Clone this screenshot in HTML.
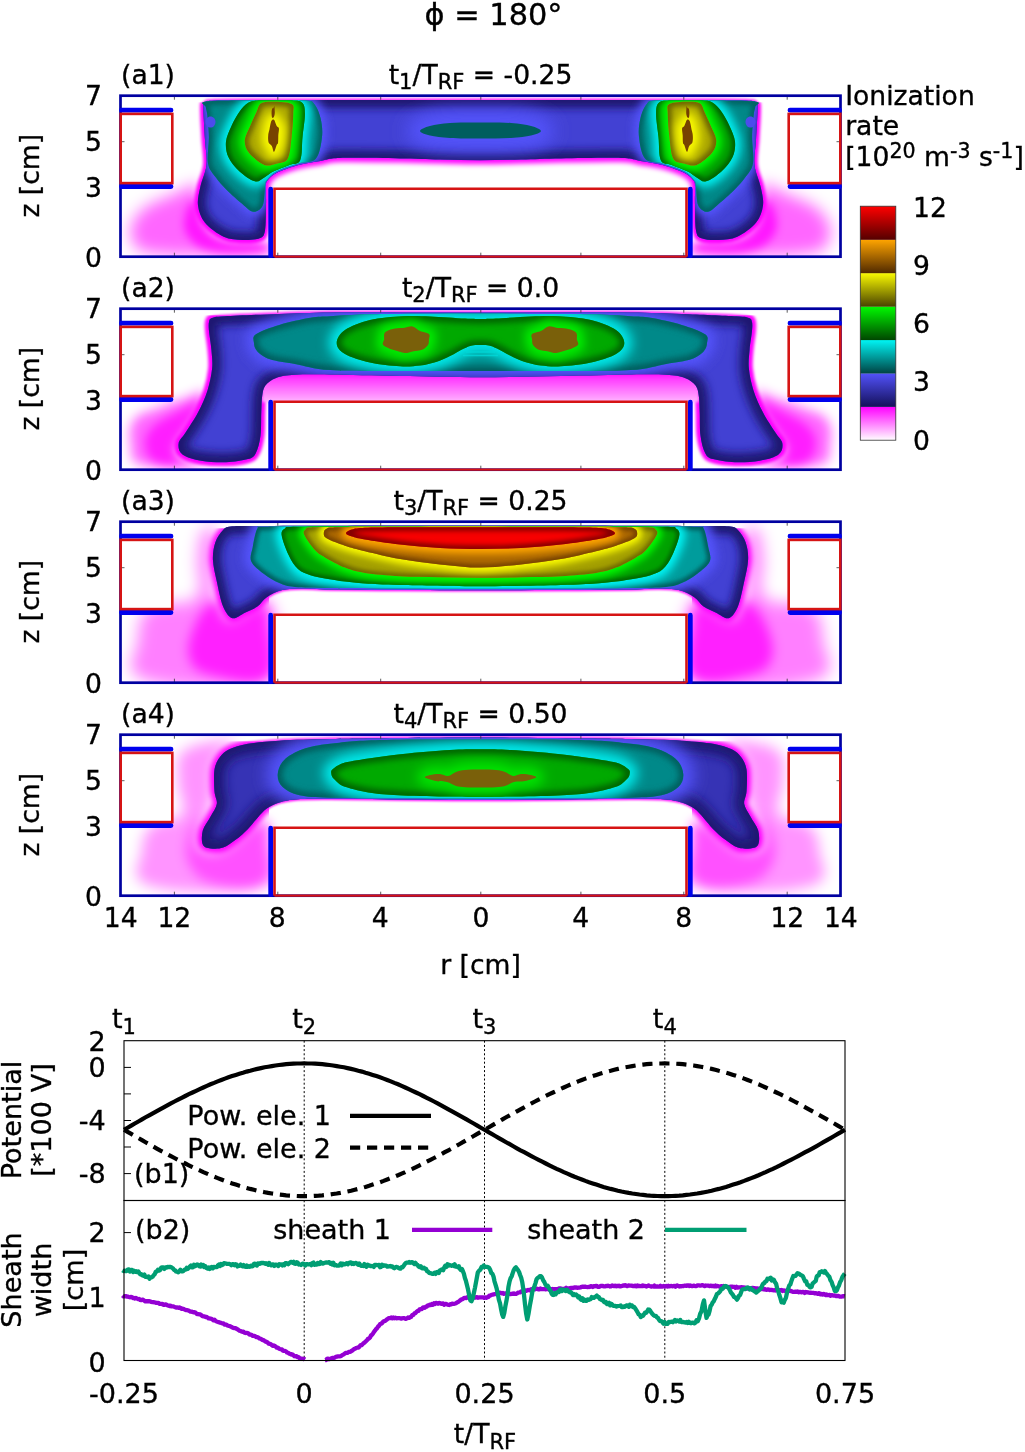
<!DOCTYPE html>
<html lang="en"><head><meta charset="utf-8"><title>Ionization rate, phi = 180 deg</title>
<style>html,body{margin:0;padding:0;background:#fff}svg{display:block}</style></head>
<body>
<svg width="1025" height="1452" viewBox="0 0 1025 1452" font-family='"DejaVu Sans","Liberation Sans",sans-serif'>
<defs>
<filter id="b3" filterUnits="userSpaceOnUse" x="90" y="80" width="780" height="830"><feGaussianBlur stdDeviation="1.6"/></filter>
<filter id="b4" filterUnits="userSpaceOnUse" x="90" y="80" width="780" height="830"><feGaussianBlur stdDeviation="2.4"/></filter>
<filter id="b5" filterUnits="userSpaceOnUse" x="90" y="80" width="780" height="830"><feGaussianBlur stdDeviation="3.2"/></filter>
<filter id="b6" filterUnits="userSpaceOnUse" x="90" y="80" width="780" height="830"><feGaussianBlur stdDeviation="4.2"/></filter>
<filter id="b8" filterUnits="userSpaceOnUse" x="90" y="80" width="780" height="830"><feGaussianBlur stdDeviation="6"/></filter>
<filter id="b10" filterUnits="userSpaceOnUse" x="90" y="80" width="780" height="830"><feGaussianBlur stdDeviation="9"/></filter>
<linearGradient id="g_blue" x1="0" y1="1" x2="0" y2="0"><stop offset="0" stop-color="rgb(20,16,89)"/><stop offset="1" stop-color="rgb(82,82,250)"/></linearGradient>
<linearGradient id="g_cyan" x1="0" y1="1" x2="0" y2="0"><stop offset="0" stop-color="rgb(0,67,67)"/><stop offset="1" stop-color="rgb(0,245,245)"/></linearGradient>
<linearGradient id="g_green" x1="0" y1="1" x2="0" y2="0"><stop offset="0" stop-color="rgb(0,70,0)"/><stop offset="1" stop-color="rgb(0,250,0)"/></linearGradient>
<linearGradient id="g_yellow" x1="0" y1="1" x2="0" y2="0"><stop offset="0" stop-color="rgb(73,67,0)"/><stop offset="1" stop-color="rgb(250,250,0)"/></linearGradient>
<linearGradient id="g_orange" x1="0" y1="1" x2="0" y2="0"><stop offset="0" stop-color="rgb(80,41,0)"/><stop offset="1" stop-color="rgb(255,165,0)"/></linearGradient>
<linearGradient id="g_red" x1="0" y1="1" x2="0" y2="0"><stop offset="0" stop-color="rgb(84,0,0)"/><stop offset="1" stop-color="rgb(255,0,0)"/></linearGradient>
<linearGradient id="g_strip" x1="0" y1="0" x2="0" y2="1"><stop offset="0" stop-color="#ff10ff"/><stop offset=".25" stop-color="#ff48ff"/><stop offset="1" stop-color="#ffb4ff"/></linearGradient>
<linearGradient id="g_mag" x1="0" y1="1" x2="0" y2="0"><stop offset="0" stop-color="#fff"/><stop offset="1" stop-color="#f0f"/></linearGradient>
<clipPath id="box0"><rect x="120.5" y="95.7" width="720" height="161"/></clipPath>
<path id="h1" d="M480.5 100C453.7 100 423.4 100 400 100C376.6 100 363.3 100 340 100C316.7 100 280.8 99.9 260 100C239.2 100.1 224.2 100.1 215 100.5C205.8 100.9 206.9 100.9 205 102.5C203.1 104.1 203.5 103.8 203.5 110C203.5 116.2 204.5 130.8 205 140C205.5 149.2 207.3 157.2 206.5 165C205.7 172.8 201.7 180.2 200.3 187C198.9 193.8 197.2 199.6 198 205.5C198.8 211.4 200.7 217.5 205 222.7C209.3 227.9 217.5 233.8 223.7 236.7C229.9 239.6 236.4 239.7 242.4 240C248.4 240.3 255.8 239.9 259.6 238.3C263.4 236.7 263.9 236.1 265 230.5C266.1 224.9 265.8 212.2 266 205C266.2 197.8 265.8 191.1 266 187C266.2 182.9 265.6 182.9 267.4 180.5C269.2 178.1 271.6 175.3 276.8 172.7C282 170.1 291.3 166.8 298.6 164.9C305.9 163 313.6 162.2 320.5 161C327.4 159.8 326.8 158.4 340 158C353.2 157.6 383.3 158.2 400 158.5C416.7 158.8 426.6 159.2 440 159.5C453.4 159.8 467 160.2 480.5 160.2C494 160.2 507.6 159.8 521 159.5C534.4 159.2 544.3 158.8 561 158.5C577.7 158.2 607.8 157.6 621 158C634.2 158.4 633.6 159.8 640.5 161C647.4 162.2 655.1 163 662.4 164.9C669.7 166.8 679 170.1 684.2 172.7C689.4 175.3 691.8 178.1 693.6 180.5C695.4 182.9 694.8 182.9 695 187C695.2 191.1 694.8 197.8 695 205C695.2 212.2 694.9 224.9 696 230.5C697.1 236.1 697.6 236.7 701.4 238.3C705.2 239.9 712.6 240.3 718.6 240C724.6 239.7 731.1 239.6 737.3 236.7C743.5 233.8 751.7 227.9 756 222.7C760.3 217.5 762.2 211.4 763 205.5C763.8 199.6 762.1 193.8 760.7 187C759.3 180.2 755.3 172.8 754.5 165C753.7 157.2 755.5 149.2 756 140C756.5 130.8 757.5 116.2 757.5 110C757.5 103.8 757.9 104.1 756 102.5C754.1 100.9 755.2 100.9 746 100.5C736.8 100.1 721.8 100.1 701 100C680.2 99.9 644.3 100 621 100C597.7 100 584.4 100 561 100C537.6 100 507.3 100 480.5 100Z"/>
<clipPath id="hc2"><rect x="100" y="102.2" width="169" height="200"/><rect x="692" y="102.2" width="169" height="200"/></clipPath>
<clipPath id="hc3"><rect x="269" y="102.2" width="423" height="200"/></clipPath>
<clipPath id="hc4"><rect x="100" y="85.7" width="760" height="16.5"/></clipPath>
<filter id="bl0" filterUnits="userSpaceOnUse" x="90" y="80" width="780" height="830"><feGaussianBlur stdDeviation="2.8"/></filter>
<filter id="bl1" filterUnits="userSpaceOnUse" x="90" y="80" width="780" height="830"><feGaussianBlur stdDeviation="1.0"/></filter>
<filter id="bl2" filterUnits="userSpaceOnUse" x="90" y="80" width="780" height="830"><feGaussianBlur stdDeviation="8.0"/></filter>
<filter id="bl3" filterUnits="userSpaceOnUse" x="90" y="80" width="780" height="830"><feGaussianBlur stdDeviation="4.5"/></filter>
<path id="p5" d="M480.5 100C453.7 100 423.4 100 400 100C376.6 100 363.3 100 340 100C316.7 100 280.8 99.9 260 100C239.2 100.1 224.2 100.1 215 100.5C205.8 100.9 206.9 100.9 205 102.5C203.1 104.1 203.5 103.8 203.5 110C203.5 116.2 204.5 130.8 205 140C205.5 149.2 207.3 157.2 206.5 165C205.7 172.8 201.7 180.2 200.3 187C198.9 193.8 197.2 199.6 198 205.5C198.8 211.4 200.7 217.5 205 222.7C209.3 227.9 217.5 233.8 223.7 236.7C229.9 239.6 236.4 239.7 242.4 240C248.4 240.3 255.8 239.9 259.6 238.3C263.4 236.7 263.9 236.1 265 230.5C266.1 224.9 265.8 212.2 266 205C266.2 197.8 265.8 191.1 266 187C266.2 182.9 265.6 182.9 267.4 180.5C269.2 178.1 271.6 175.3 276.8 172.7C282 170.1 291.3 166.8 298.6 164.9C305.9 163 313.6 162.2 320.5 161C327.4 159.8 326.8 158.4 340 158C353.2 157.6 383.3 158.2 400 158.5C416.7 158.8 426.6 159.2 440 159.5C453.4 159.8 467 160.2 480.5 160.2C494 160.2 507.6 159.8 521 159.5C534.4 159.2 544.3 158.8 561 158.5C577.7 158.2 607.8 157.6 621 158C634.2 158.4 633.6 159.8 640.5 161C647.4 162.2 655.1 163 662.4 164.9C669.7 166.8 679 170.1 684.2 172.7C689.4 175.3 691.8 178.1 693.6 180.5C695.4 182.9 694.8 182.9 695 187C695.2 191.1 694.8 197.8 695 205C695.2 212.2 694.9 224.9 696 230.5C697.1 236.1 697.6 236.7 701.4 238.3C705.2 239.9 712.6 240.3 718.6 240C724.6 239.7 731.1 239.6 737.3 236.7C743.5 233.8 751.7 227.9 756 222.7C760.3 217.5 762.2 211.4 763 205.5C763.8 199.6 762.1 193.8 760.7 187C759.3 180.2 755.3 172.8 754.5 165C753.7 157.2 755.5 149.2 756 140C756.5 130.8 757.5 116.2 757.5 110C757.5 103.8 757.9 104.1 756 102.5C754.1 100.9 755.2 100.9 746 100.5C736.8 100.1 721.8 100.1 701 100C680.2 99.9 644.3 100 621 100C597.7 100 584.4 100 561 100C537.6 100 507.3 100 480.5 100Z"/>
<clipPath id="c6"><use href="#p5"/></clipPath>
<path id="p7" d="M206.5 101.5C197.5 102.6 205.7 104.8 205.8 107C205.9 109.2 206.8 110 207.3 115C207.8 120 208.8 128.9 208.9 137C209 145.1 206.8 156.7 208 163.4C209.2 170.1 212.8 173 215.9 177.4C219 181.8 222.4 185.5 226.8 189.9C231.2 194.3 238 200.3 242.4 204C246.8 207.7 250 211.6 253.4 211.8C256.8 212.1 260.8 209.6 262.7 205.5C264.6 201.4 264.4 191.2 265 187C265.6 182.8 264.6 183.1 266.6 180.5C268.6 177.9 271.5 174 276.8 171.2C282.1 168.3 292.1 165.5 298.6 163.4C305.1 161.3 311.9 163.1 315.8 158.7C319.7 154.3 321.2 143.8 322 137C322.8 130.2 321.8 123.5 320.5 118C319.2 112.5 316.8 106.9 314.2 104C311.6 101.1 313.9 101.1 304.9 100.5C295.9 99.9 276.4 100.3 260 100.5C243.6 100.7 215.5 100.4 206.5 101.5Z"/>
<clipPath id="c8"><use href="#p7"/></clipPath>
<path id="p9" d="M754.5 101.5C763.5 102.6 755.3 104.8 755.2 107C755.1 109.2 754.2 110 753.7 115C753.2 120 752.2 128.9 752.1 137C752 145.1 754.2 156.7 753 163.4C751.8 170.1 748.2 173 745.1 177.4C742 181.8 738.6 185.5 734.2 189.9C729.8 194.3 723 200.3 718.6 204C714.2 207.7 711 211.6 707.6 211.8C704.2 212.1 700.2 209.6 698.3 205.5C696.4 201.4 696.6 191.2 696 187C695.4 182.8 696.4 183.1 694.4 180.5C692.4 177.9 689.5 174 684.2 171.2C678.9 168.3 668.9 165.5 662.4 163.4C655.9 161.3 649.1 163.1 645.2 158.7C641.3 154.3 639.8 143.8 639 137C638.2 130.2 639.2 123.5 640.5 118C641.8 112.5 644.2 106.9 646.8 104C649.4 101.1 647.1 101.1 656.1 100.5C665.1 99.9 684.6 100.3 701 100.5C717.4 100.7 745.5 100.4 754.5 101.5Z"/>
<clipPath id="c10"><use href="#p9"/></clipPath>
<path id="p11" d="M248.7 102.5C245 104.4 242.2 108 239.3 111.9C236.4 115.8 233.7 121 231.5 125.9C229.3 130.8 226.5 136.3 226 141.5C225.5 146.7 226.2 152.2 228.4 157.1C230.6 162 234.9 167.2 239.3 171.2C243.7 175.2 250.7 180.3 254.9 181.3C259.1 182.3 261.2 179.1 264.3 177.4C267.4 175.7 269.5 173.3 273.7 171.2C277.9 169.1 284.9 166.7 289.3 164.9C293.7 163.1 298 164.9 300.2 160.2C302.4 155.5 301.7 144.6 302.5 136.8C303.3 129 305 119.1 304.9 113.4C304.8 107.7 304.4 104.6 301.8 102.5C299.2 100.4 296.1 100.9 289.3 100.6C282.5 100.3 268 100.3 261.2 100.6C254.4 100.9 252.3 100.6 248.7 102.5Z"/>
<clipPath id="c12"><use href="#p11"/></clipPath>
<path id="p13" d="M712.3 102.5C715.9 104.4 718.8 108 721.7 111.9C724.6 115.8 727.3 121 729.5 125.9C731.7 130.8 734.5 136.3 735 141.5C735.5 146.7 734.8 152.2 732.6 157.1C730.4 162 726.1 167.2 721.7 171.2C717.3 175.2 710.3 180.3 706.1 181.3C701.9 182.3 699.8 179.1 696.7 177.4C693.6 175.7 691.5 173.3 687.3 171.2C683.1 169.1 676.1 166.7 671.7 164.9C667.3 163.1 663 164.9 660.8 160.2C658.6 155.5 659.3 144.6 658.5 136.8C657.7 129 656 119.1 656.1 113.4C656.2 107.7 656.6 104.6 659.2 102.5C661.8 100.4 664.9 100.9 671.7 100.6C678.5 100.3 693 100.3 699.8 100.6C706.6 100.9 708.6 100.6 712.3 102.5Z"/>
<clipPath id="c14"><use href="#p13"/></clipPath>
<path id="p15" d="M261.2 103.3C258.3 105 258.3 108.1 256.5 111.9C254.7 115.7 252.1 121.2 250.2 125.9C248.2 130.6 245.1 135.6 244.8 140C244.6 144.4 245.4 148.2 248.7 152.4C251.9 156.6 259.6 163.1 264.3 164.9C269 166.7 272.9 164.4 276.8 163.4C280.7 162.4 285.2 163.1 287.7 158.7C290.2 154.3 290.7 144.4 291.6 136.8C292.5 129.2 293.2 118.9 293.2 113.4C293.2 107.9 294.9 106 291.6 104C288.4 102 278.8 101.8 273.7 101.7C268.6 101.6 264.1 101.6 261.2 103.3Z"/>
<clipPath id="c16"><use href="#p15"/></clipPath>
<path id="p17" d="M699.8 103.3C702.7 105 702.7 108.1 704.5 111.9C706.3 115.7 708.8 121.2 710.8 125.9C712.8 130.6 716 135.6 716.2 140C716.5 144.4 715.5 148.2 712.3 152.4C709 156.6 701.4 163.1 696.7 164.9C692 166.7 688.1 164.4 684.2 163.4C680.3 162.4 675.8 163.1 673.3 158.7C670.8 154.3 670.3 144.4 669.4 136.8C668.5 129.2 667.8 118.9 667.8 113.4C667.8 107.9 666.1 106 669.4 104C672.6 102 682.2 101.8 687.3 101.7C692.4 101.6 696.9 101.6 699.8 103.3Z"/>
<clipPath id="c18"><use href="#p17"/></clipPath>
<path id="p19" d="M278.3 135.5C278.2 137.9 278.3 141.3 278 142.9C277.8 144.4 277.3 143.5 276.7 145C276 146.5 274.8 151.7 274 151.9C273.2 152 272.7 147.6 271.8 146C270.9 144.4 269.2 144.1 268.6 142.4C268 140.6 268 137.6 268.2 135.5C268.3 133.4 268.8 132.1 269.4 129.7C269.9 127.3 270.6 122.8 271.3 121.1C272.1 119.5 273.1 119 274 119.8C274.9 120.6 275.9 124.6 276.7 126C277.5 127.4 278.6 126.6 278.9 128.2C279.2 129.8 278.5 133.1 278.3 135.5Z"/>
<clipPath id="c20"><use href="#p19"/></clipPath>
<path id="p21" d="M682.7 135.5C682.8 137.9 682.7 141.3 683 142.9C683.2 144.4 683.7 143.5 684.3 145C685 146.5 686.2 151.7 687 151.9C687.8 152 688.3 147.6 689.2 146C690.1 144.4 691.8 144.1 692.4 142.4C693 140.6 693 137.6 692.8 135.5C692.7 133.4 692.2 132.1 691.6 129.7C691.1 127.3 690.4 122.8 689.7 121.1C688.9 119.5 687.9 119 687 119.8C686.1 120.6 685.1 124.6 684.3 126C683.5 127.4 682.4 126.6 682.1 128.2C681.8 129.8 682.5 133.1 682.7 135.5Z"/>
<clipPath id="c22"><use href="#p21"/></clipPath>
<path id="p23" d="M274.8 112C274.8 113.5 274.7 114.2 274.5 115.1C274.3 116 273.9 117.2 273.5 117.5C273.1 117.9 272.3 118.2 272 117.3C271.7 116.3 271.5 113.5 271.6 112C271.6 110.5 272 109.2 272.3 108.5C272.7 107.8 273.2 108.3 273.5 107.9C273.8 107.5 274.2 105.6 274.4 106.3C274.6 107 274.7 110.5 274.8 112Z"/>
<clipPath id="c24"><use href="#p23"/></clipPath>
<path id="p25" d="M686.2 112C686.2 113.5 686.3 114.2 686.5 115.1C686.7 116 687.1 117.2 687.5 117.5C687.9 117.9 688.7 118.2 689 117.3C689.3 116.3 689.5 113.5 689.4 112C689.4 110.5 689 109.2 688.7 108.5C688.3 107.8 687.8 108.3 687.5 107.9C687.2 107.5 686.8 105.6 686.6 106.3C686.4 107 686.3 110.5 686.2 112Z"/>
<clipPath id="c26"><use href="#p25"/></clipPath>
<path id="p27" d="M480.5 122.5C470.3 122.5 458.4 122.4 450 123C441.6 123.6 435 124.7 430 126C425 127.3 420 129.4 420 131C420 132.6 425 134.3 430 135.5C435 136.7 441.6 137.5 450 138C458.4 138.5 470.3 138.5 480.5 138.5C490.7 138.5 502.6 138.5 511 138C519.4 137.5 526 136.7 531 135.5C536 134.3 541 132.6 541 131C541 129.4 536 127.3 531 126C526 124.7 519.4 123.6 511 123C502.6 122.4 490.7 122.5 480.5 122.5Z"/>
<clipPath id="c28"><use href="#p27"/></clipPath>
<path id="p29" d="M215.5 122C215.5 123.3 214.9 125 214 125.9C213.2 126.8 211.7 127.5 210.5 127.5C209.3 127.5 207.8 126.8 207 125.9C206.1 125 205.5 123.3 205.5 122C205.5 120.7 206.1 119 207 118.1C207.8 117.2 209.3 116.5 210.5 116.5C211.7 116.5 213.2 117.2 214 118.1C214.9 119 215.5 120.7 215.5 122Z"/>
<clipPath id="c30"><use href="#p29"/></clipPath>
<path id="p31" d="M745.5 122C745.5 123.3 746.1 125 747 125.9C747.8 126.8 749.3 127.5 750.5 127.5C751.7 127.5 753.2 126.8 754 125.9C754.9 125 755.5 123.3 755.5 122C755.5 120.7 754.9 119 754 118.1C753.2 117.2 751.7 116.5 750.5 116.5C749.3 116.5 747.8 117.2 747 118.1C746.1 119 745.5 120.7 745.5 122Z"/>
<clipPath id="c32"><use href="#p31"/></clipPath>
<filter id="bl4" filterUnits="userSpaceOnUse" x="90" y="80" width="780" height="830"><feGaussianBlur stdDeviation="4.0"/></filter>
<filter id="bl5" filterUnits="userSpaceOnUse" x="90" y="80" width="780" height="830"><feGaussianBlur stdDeviation="9.0"/></filter>
<filter id="bl6" filterUnits="userSpaceOnUse" x="90" y="80" width="780" height="830"><feGaussianBlur stdDeviation="2.5"/></filter>
<filter id="bl7" filterUnits="userSpaceOnUse" x="90" y="80" width="780" height="830"><feGaussianBlur stdDeviation="2.2"/></filter>
<filter id="bl8" filterUnits="userSpaceOnUse" x="90" y="80" width="780" height="830"><feGaussianBlur stdDeviation="5.0"/></filter>
<clipPath id="box1"><rect x="120.5" y="308.7" width="720" height="161"/></clipPath>
<path id="h33" d="M480.5 312.4C453.7 312.4 425.1 312.4 400 312.4C374.9 312.4 350.1 312.1 330 312.4C309.9 312.6 296.9 313.2 279.3 313.9C261.7 314.5 235.8 315.6 224.6 316.3C213.4 317 214.6 317.1 212 318C209.4 318.9 209.5 319.8 209 322C208.5 324.2 208.6 326.5 209 331.1C209.4 335.7 210.9 343.6 211.4 349.8C211.9 356.1 212.8 361.8 212.1 368.6C211.4 375.4 209.8 383.1 207.5 390.4C205.2 397.7 201.8 405.3 198.1 412.3C194.4 419.3 188.8 427.4 185.6 432.6C182.3 437.8 179.1 439.9 178.6 443.5C178.1 447.1 178.7 451.5 182.5 454.4C186.3 457.3 193.9 459.4 201.2 460.7C208.5 462 218.4 462.5 226.2 462.2C234 461.9 243.1 460.7 248 459.1C252.9 457.6 253.8 456.8 255.9 452.9C258 449 259.6 442.5 260.5 435.7C261.4 428.9 261 418.8 261.3 412.3C261.6 405.8 261.5 401.1 262.1 396.7C262.8 392.3 262.9 388.8 265.2 385.7C267.5 382.6 271.2 379.7 276.1 377.9C281.1 376.1 285.9 375.4 294.9 374.8C303.9 374.2 312.5 374.3 330 374.5C347.5 374.7 374.9 375.6 400 376C425.1 376.4 453.7 377.2 480.5 377.2C507.3 377.2 535.9 376.4 561 376C586.1 375.6 613.5 374.7 631 374.5C648.5 374.3 657.1 374.2 666.1 374.8C675.1 375.4 680 376.1 684.9 377.9C689.8 379.7 693.5 382.6 695.8 385.7C698.1 388.8 698.2 392.3 698.9 396.7C699.5 401.1 699.4 405.8 699.7 412.3C700 418.8 699.6 428.9 700.5 435.7C701.4 442.5 703 449 705.1 452.9C707.2 456.8 708 457.6 713 459.1C718 460.7 727 461.9 734.8 462.2C742.6 462.5 752.5 462 759.8 460.7C767.1 459.4 774.7 457.3 778.5 454.4C782.3 451.5 782.9 447.1 782.4 443.5C781.9 439.9 778.6 437.8 775.4 432.6C772.1 427.4 766.5 419.3 762.9 412.3C759.2 405.3 755.8 397.7 753.5 390.4C751.2 383.1 749.5 375.4 748.9 368.6C748.2 361.8 749.1 356.1 749.6 349.8C750.1 343.6 751.6 335.7 752 331.1C752.4 326.5 752.5 324.2 752 322C751.5 319.8 751.6 318.9 749 318C746.4 317.1 747.6 317 736.4 316.3C725.2 315.6 699.3 314.5 681.7 313.9C664.1 313.2 651.1 312.6 631 312.4C610.9 312.1 586.1 312.4 561 312.4C535.9 312.4 507.3 312.4 480.5 312.4Z"/>
<clipPath id="hc34"><rect x="100" y="315.2" width="169" height="200"/><rect x="692" y="315.2" width="169" height="200"/></clipPath>
<clipPath id="hc35"><rect x="269" y="315.2" width="423" height="200"/></clipPath>
<clipPath id="hc36"><rect x="100" y="298.7" width="760" height="16.5"/></clipPath>
<filter id="bl9" filterUnits="userSpaceOnUse" x="90" y="80" width="780" height="830"><feGaussianBlur stdDeviation="1.6"/></filter>
<filter id="bl10" filterUnits="userSpaceOnUse" x="90" y="80" width="780" height="830"><feGaussianBlur stdDeviation="6.0"/></filter>
<path id="p37" d="M480.5 312.4C453.7 312.4 425.1 312.4 400 312.4C374.9 312.4 350.1 312.1 330 312.4C309.9 312.6 296.9 313.2 279.3 313.9C261.7 314.5 235.8 315.6 224.6 316.3C213.4 317 214.6 317.1 212 318C209.4 318.9 209.5 319.8 209 322C208.5 324.2 208.6 326.5 209 331.1C209.4 335.7 210.9 343.6 211.4 349.8C211.9 356.1 212.8 361.8 212.1 368.6C211.4 375.4 209.8 383.1 207.5 390.4C205.2 397.7 201.8 405.3 198.1 412.3C194.4 419.3 188.8 427.4 185.6 432.6C182.3 437.8 179.1 439.9 178.6 443.5C178.1 447.1 178.7 451.5 182.5 454.4C186.3 457.3 193.9 459.4 201.2 460.7C208.5 462 218.4 462.5 226.2 462.2C234 461.9 243.1 460.7 248 459.1C252.9 457.6 253.8 456.8 255.9 452.9C258 449 259.6 442.5 260.5 435.7C261.4 428.9 261 418.8 261.3 412.3C261.6 405.8 261.5 401.1 262.1 396.7C262.8 392.3 262.9 388.8 265.2 385.7C267.5 382.6 271.2 379.7 276.1 377.9C281.1 376.1 285.9 375.4 294.9 374.8C303.9 374.2 312.5 374.3 330 374.5C347.5 374.7 374.9 375.6 400 376C425.1 376.4 453.7 377.2 480.5 377.2C507.3 377.2 535.9 376.4 561 376C586.1 375.6 613.5 374.7 631 374.5C648.5 374.3 657.1 374.2 666.1 374.8C675.1 375.4 680 376.1 684.9 377.9C689.8 379.7 693.5 382.6 695.8 385.7C698.1 388.8 698.2 392.3 698.9 396.7C699.5 401.1 699.4 405.8 699.7 412.3C700 418.8 699.6 428.9 700.5 435.7C701.4 442.5 703 449 705.1 452.9C707.2 456.8 708 457.6 713 459.1C718 460.7 727 461.9 734.8 462.2C742.6 462.5 752.5 462 759.8 460.7C767.1 459.4 774.7 457.3 778.5 454.4C782.3 451.5 782.9 447.1 782.4 443.5C781.9 439.9 778.6 437.8 775.4 432.6C772.1 427.4 766.5 419.3 762.9 412.3C759.2 405.3 755.8 397.7 753.5 390.4C751.2 383.1 749.5 375.4 748.9 368.6C748.2 361.8 749.1 356.1 749.6 349.8C750.1 343.6 751.6 335.7 752 331.1C752.4 326.5 752.5 324.2 752 322C751.5 319.8 751.6 318.9 749 318C746.4 317.1 747.6 317 736.4 316.3C725.2 315.6 699.3 314.5 681.7 313.9C664.1 313.2 651.1 312.6 631 312.4C610.9 312.1 586.1 312.4 561 312.4C535.9 312.4 507.3 312.4 480.5 312.4Z"/>
<clipPath id="c38"><use href="#p37"/></clipPath>
<path id="p39" d="M480.5 313.6C453.7 313.6 420.1 313.9 400 314C379.9 314.1 371.7 314.1 360 314.5C348.3 314.9 338.2 315.8 330 316.3C321.8 316.9 318.9 316.4 310.5 317.8C302.1 319.2 288.4 322.2 279.3 324.9C270.2 327.6 260.1 331.2 255.9 334.2C251.7 337.2 253.8 340.1 254 343C254.2 345.9 254.7 348.7 257.4 351.4C260 354.1 263.6 357.1 269.9 359.2C276.1 361.3 284.9 362.1 294.9 363.9C304.9 365.7 312.5 368.9 330 370.1C347.5 371.3 374.9 370.9 400 371C425.1 371.1 453.7 371 480.5 371C507.3 371 535.9 371.1 561 371C586.1 370.9 613.5 371.3 631 370.1C648.5 368.9 656.1 365.7 666.1 363.9C676.1 362.1 684.9 361.3 691.1 359.2C697.4 357.1 701 354.1 703.6 351.4C706.2 348.7 706.8 345.9 707 343C707.2 340.1 709.3 337.2 705.1 334.2C700.9 331.2 690.8 327.6 681.7 324.9C672.6 322.2 659 319.2 650.5 317.8C642 316.4 639.2 316.9 631 316.3C622.8 315.8 612.7 314.9 601 314.5C589.3 314.1 581.1 314.1 561 314C540.9 313.9 507.3 313.6 480.5 313.6Z"/>
<clipPath id="c40"><use href="#p39"/></clipPath>
<path id="p41" d="M480.5 319C475.3 319 473.4 319 465 318.6C456.6 318.2 440.3 316.9 430 316.5C419.7 316.1 413 315.7 403 316.3C393 316.9 379.7 317.7 370 320C360.3 322.3 350.6 326.2 345 330C339.4 333.8 336.7 339 336.7 343C336.7 347 339.4 350.8 345 354C350.6 357.2 360.8 360.4 370 362.5C379.2 364.6 391.7 365.8 400 366.3C408.3 366.8 414 366.2 420 365.5C426 364.8 431 363.6 436 362C441 360.4 445.3 358.2 450 356C454.7 353.8 460.3 350.2 464 348.5C467.7 346.8 469.2 346.1 472 345.5C474.8 344.9 477.7 345 480.5 345C483.3 345 486.2 344.9 489 345.5C491.8 346.1 493.3 346.8 497 348.5C500.7 350.2 506.3 353.8 511 356C515.7 358.2 520 360.4 525 362C530 363.6 535 364.8 541 365.5C547 366.2 552.7 366.8 561 366.3C569.3 365.8 581.8 364.6 591 362.5C600.2 360.4 610.5 357.2 616 354C621.5 350.8 624.3 347 624.3 343C624.3 339 621.5 333.8 616 330C610.5 326.2 600.7 322.3 591 320C581.3 317.7 568 316.9 558 316.3C548 315.7 541.3 316.1 531 316.5C520.7 316.9 504.4 318.2 496 318.6C487.6 319 485.7 319 480.5 319Z"/>
<clipPath id="c42"><use href="#p41"/></clipPath>
<path id="p43" d="M428.9 339.5C428.8 341.3 429.1 343.3 428 345C426.9 346.7 424.9 348.6 422.3 349.7C419.8 350.7 415.6 350.9 412.6 351.4C409.7 352 407.7 353.2 404.7 353C401.7 352.8 397.6 351.2 394.8 350.3C392.1 349.5 390.2 349.1 388.2 348.1C386.2 347.1 383.4 346 382.8 344.6C382.1 343.1 383.8 341.3 384.1 339.5C384.3 337.7 383.7 335.4 384.2 334C384.7 332.6 385.2 332 387 331.1C388.8 330.2 392.1 329.1 395 328.6C398 328 401.8 328.1 404.7 327.7C407.6 327.3 410 325.8 412.6 326.4C415.1 326.9 417.4 329.7 420.1 331C422.9 332.2 427.6 332.6 429 334.1C430.5 335.5 429.1 337.7 428.9 339.5Z"/>
<clipPath id="c44"><use href="#p43"/></clipPath>
<path id="p45" d="M532.1 339.5C532.2 341.3 531.9 343.3 533 345C534.1 346.7 536.1 348.6 538.7 349.7C541.2 350.7 545.4 350.9 548.4 351.4C551.3 352 553.3 353.2 556.3 353C559.3 352.8 563.4 351.2 566.2 350.3C568.9 349.5 570.8 349.1 572.8 348.1C574.8 347.1 577.6 346 578.2 344.6C578.9 343.1 577.2 341.3 576.9 339.5C576.7 337.7 577.3 335.4 576.8 334C576.3 332.6 575.8 332 574 331.1C572.2 330.2 568.9 329.1 566 328.6C563 328 559.2 328.1 556.3 327.7C553.4 327.3 551 325.8 548.4 326.4C545.9 326.9 543.6 329.7 540.9 331C538.1 332.2 533.4 332.6 532 334.1C530.5 335.5 531.9 337.7 532.1 339.5Z"/>
<clipPath id="c46"><use href="#p45"/></clipPath>
<filter id="bl11" filterUnits="userSpaceOnUse" x="90" y="80" width="780" height="830"><feGaussianBlur stdDeviation="3.0"/></filter>
<clipPath id="box2"><rect x="120.5" y="521.7" width="720" height="161"/></clipPath>
<path id="h47" d="M480.5 525.5C453.7 525.5 425.1 525.6 400 525.6C374.9 525.6 353.3 525.7 330 525.8C306.7 525.9 276.3 525.9 260 526C243.7 526.1 238.6 525.6 232.4 526.3C226.2 527 225.9 527.3 223.1 530C220.2 532.7 217 537.5 215.3 542.5C213.6 547.5 212.7 553.2 212.9 559.7C213.2 566.2 215.1 573.8 216.8 581.6C218.5 589.4 220.5 600.4 223.1 606.5C225.7 612.6 228.8 617.2 232.4 618.2C236 619.2 240.7 614.8 244.9 612.8C249.1 610.8 253.7 609.1 257.4 606.5C261 603.9 262.6 599.9 266.8 597.2C271 594.5 276.4 591.6 282.4 590.1C288.4 588.6 294.8 588.6 302.7 588.5C310.6 588.4 313.8 589.2 330 589.5C346.2 589.8 374.9 589.9 400 590C425.1 590.1 453.7 590.2 480.5 590.2C507.3 590.2 535.9 590.1 561 590C586.1 589.9 614.8 589.8 631 589.5C647.2 589.2 650.4 588.4 658.3 588.5C666.2 588.6 672.6 588.6 678.6 590.1C684.6 591.6 690 594.5 694.2 597.2C698.4 599.9 700 603.9 703.6 606.5C707.2 609.1 711.9 610.8 716.1 612.8C720.3 614.8 725 619.2 728.6 618.2C732.2 617.2 735.3 612.6 737.9 606.5C740.5 600.4 742.5 589.4 744.2 581.6C745.9 573.8 747.9 566.2 748.1 559.7C748.4 553.2 747.4 547.5 745.7 542.5C744 537.5 740.8 532.7 737.9 530C735 527.3 734.8 527 728.6 526.3C722.5 525.6 717.3 526.1 701 526C684.7 525.9 654.3 525.9 631 525.8C607.7 525.7 586.1 525.6 561 525.6C535.9 525.6 507.3 525.5 480.5 525.5Z"/>
<clipPath id="hc48"><rect x="100" y="528.2" width="169" height="200"/><rect x="692" y="528.2" width="169" height="200"/></clipPath>
<clipPath id="hc49"><rect x="269" y="528.2" width="423" height="200"/></clipPath>
<clipPath id="hc50"><rect x="100" y="511.7" width="760" height="16.5"/></clipPath>
<filter id="bl12" filterUnits="userSpaceOnUse" x="90" y="80" width="780" height="830"><feGaussianBlur stdDeviation="0.8"/></filter>
<path id="p51" d="M480.5 525.5C453.7 525.5 425.1 525.6 400 525.6C374.9 525.6 353.3 525.7 330 525.8C306.7 525.9 276.3 525.9 260 526C243.7 526.1 238.6 525.6 232.4 526.3C226.2 527 225.9 527.3 223.1 530C220.2 532.7 217 537.5 215.3 542.5C213.6 547.5 212.7 553.2 212.9 559.7C213.2 566.2 215.1 573.8 216.8 581.6C218.5 589.4 220.5 600.4 223.1 606.5C225.7 612.6 228.8 617.2 232.4 618.2C236 619.2 240.7 614.8 244.9 612.8C249.1 610.8 253.7 609.1 257.4 606.5C261 603.9 262.6 599.9 266.8 597.2C271 594.5 276.4 591.6 282.4 590.1C288.4 588.6 294.8 588.6 302.7 588.5C310.6 588.4 313.8 589.2 330 589.5C346.2 589.8 374.9 589.9 400 590C425.1 590.1 453.7 590.2 480.5 590.2C507.3 590.2 535.9 590.1 561 590C586.1 589.9 614.8 589.8 631 589.5C647.2 589.2 650.4 588.4 658.3 588.5C666.2 588.6 672.6 588.6 678.6 590.1C684.6 591.6 690 594.5 694.2 597.2C698.4 599.9 700 603.9 703.6 606.5C707.2 609.1 711.9 610.8 716.1 612.8C720.3 614.8 725 619.2 728.6 618.2C732.2 617.2 735.3 612.6 737.9 606.5C740.5 600.4 742.5 589.4 744.2 581.6C745.9 573.8 747.9 566.2 748.1 559.7C748.4 553.2 747.4 547.5 745.7 542.5C744 537.5 740.8 532.7 737.9 530C735 527.3 734.8 527 728.6 526.3C722.5 525.6 717.3 526.1 701 526C684.7 525.9 654.3 525.9 631 525.8C607.7 525.7 586.1 525.6 561 525.6C535.9 525.6 507.3 525.5 480.5 525.5Z"/>
<clipPath id="c52"><use href="#p51"/></clipPath>
<path id="p53" d="M480.5 526C453.7 526 425.1 526.1 400 526.1C374.9 526.1 352.5 526.2 330 526.3C307.5 526.4 277.1 526.4 265 526.8C252.9 527.2 259.4 525.1 257.4 528.5C255.3 531.9 253.7 541.7 252.7 547.2C251.7 552.7 249.4 556.9 251.2 561.3C253 565.7 259 570.2 263.7 573.8C268.4 577.4 274.1 580.9 279.3 583.1C284.5 585.3 286.4 586.2 294.9 587C303.3 587.8 312.5 587.8 330 588C347.5 588.2 374.9 588.4 400 588.5C425.1 588.6 453.7 588.8 480.5 588.8C507.3 588.8 535.9 588.6 561 588.5C586.1 588.4 613.5 588.2 631 588C648.5 587.8 657.6 587.8 666.1 587C674.6 586.2 676.5 585.3 681.7 583.1C686.9 580.9 692.6 577.4 697.3 573.8C702 570.2 708 565.7 709.8 561.3C711.6 556.9 709.3 552.7 708.3 547.2C707.3 541.7 705.6 531.9 703.6 528.5C701.6 525.1 708.1 527.2 696 526.8C683.9 526.4 653.5 526.4 631 526.3C608.5 526.2 586.1 526.1 561 526.1C535.9 526.1 507.3 526 480.5 526Z"/>
<clipPath id="c54"><use href="#p53"/></clipPath>
<path id="p55" d="M480.5 526.3C453.7 526.3 425.1 526.3 400 526.4C374.9 526.5 348.3 526.5 330 526.6C311.7 526.7 297.4 526.8 290 527C282.6 527.2 286.9 526.7 285.5 528C284.1 529.3 281.1 530.2 281.6 534.7C282.1 539.2 285.9 549.3 288.6 555C291.3 560.7 294.4 565.7 298 569.1C301.6 572.5 306 573.7 310.5 575.3C315 576.9 319.2 577.5 325 578.5C330.8 579.5 338.3 580.8 345 581.6C351.7 582.4 355.8 582.9 365 583.5C374.2 584.1 380.8 584.5 400 585C419.2 585.5 453.7 586.2 480.5 586.2C507.3 586.2 541.8 585.5 561 585C580.2 584.5 586.8 584.1 596 583.5C605.2 582.9 609.3 582.4 616 581.6C622.7 580.8 630.2 579.5 636 578.5C641.8 577.5 646 576.9 650.5 575.3C655 573.7 659.4 572.5 663 569.1C666.6 565.7 669.7 560.7 672.4 555C675.1 549.3 678.9 539.2 679.4 534.7C679.9 530.2 676.9 529.3 675.5 528C674.1 526.7 678.4 527.2 671 527C663.6 526.8 649.3 526.7 631 526.6C612.7 526.5 586.1 526.5 561 526.4C535.9 526.3 507.3 526.3 480.5 526.3Z"/>
<clipPath id="c56"><use href="#p55"/></clipPath>
<path id="p57" d="M480.5 526.6C453.7 526.6 425.1 526.7 400 526.8C374.9 526.9 345 526.9 330 527C315 527.1 314 527.2 310 527.5C306 527.8 306.8 527.8 305.8 529C304.8 530.2 302.6 531.2 304.2 534.7C305.8 538.2 311.7 546.5 315.2 550.3C318.7 554.1 320 554.5 325 557.4C330 560.3 338.3 565 345 567.6C351.7 570.2 355.8 571.6 365 573C374.2 574.4 387.5 575.5 400 576.2C412.5 576.9 426.6 577 440 577.2C453.4 577.5 467 577.7 480.5 577.7C494 577.7 507.6 577.5 521 577.2C534.4 577 548.5 576.9 561 576.2C573.5 575.5 586.8 574.4 596 573C605.2 571.6 609.3 570.2 616 567.6C622.7 565 631 560.3 636 557.4C641 554.5 642.3 554.1 645.8 550.3C649.3 546.5 655.2 538.2 656.8 534.7C658.4 531.2 656.2 530.2 655.2 529C654.2 527.8 655 527.8 651 527.5C647 527.2 646 527.1 631 527C616 526.9 586.1 526.9 561 526.8C535.9 526.7 507.3 526.6 480.5 526.6Z"/>
<clipPath id="c58"><use href="#p57"/></clipPath>
<path id="p59" d="M480.5 526.9C453.7 526.9 423.4 526.9 400 527C376.6 527.1 352.2 527 340 527.3C327.8 527.5 329.7 527.5 327 528.5C324.3 529.5 323.8 531.5 323.8 533.2C323.8 534.9 323.5 536.4 327 538.5C330.5 540.6 338.7 543.6 345 545.7C351.3 547.8 355.8 549 365 551.2C374.2 553.4 387.5 556.8 400 559C412.5 561.2 426.6 563 440 564.4C453.4 565.8 467 567.6 480.5 567.6C494 567.6 507.6 565.8 521 564.4C534.4 563 548.5 561.2 561 559C573.5 556.8 586.8 553.4 596 551.2C605.2 549 609.7 547.8 616 545.7C622.3 543.6 630.5 540.6 634 538.5C637.5 536.4 637.2 534.9 637.2 533.2C637.2 531.5 636.7 529.5 634 528.5C631.3 527.5 633.2 527.5 621 527.3C608.8 527 584.4 527.1 561 527C537.6 526.9 507.3 526.9 480.5 526.9Z"/>
<clipPath id="c60"><use href="#p59"/></clipPath>
<path id="p61" d="M480.5 527.2C453.7 527.2 419.2 527.1 400 527.2C380.8 527.3 373 527.4 365 527.8C357 528.2 355.2 528.6 352 529.5C348.8 530.4 346 532 346 533.2C346 534.4 348.8 535.5 352 536.5C355.2 537.5 357 538.2 365 539.5C373 540.8 387.5 543.1 400 544.5C412.5 545.9 426.6 547.2 440 548C453.4 548.8 467 549 480.5 549C494 549 507.6 548.8 521 548C534.4 547.2 548.5 545.9 561 544.5C573.5 543.1 588 540.8 596 539.5C604 538.2 605.8 537.5 609 536.5C612.2 535.5 615 534.4 615 533.2C615 532 612.2 530.4 609 529.5C605.8 528.6 604 528.2 596 527.8C588 527.4 580.2 527.3 561 527.2C541.8 527.1 507.3 527.2 480.5 527.2Z"/>
<clipPath id="c62"><use href="#p61"/></clipPath>
<filter id="bl13" filterUnits="userSpaceOnUse" x="90" y="80" width="780" height="830"><feGaussianBlur stdDeviation="2.0"/></filter>
<filter id="bl14" filterUnits="userSpaceOnUse" x="90" y="80" width="780" height="830"><feGaussianBlur stdDeviation="3.5"/></filter>
<filter id="bl15" filterUnits="userSpaceOnUse" x="90" y="80" width="780" height="830"><feGaussianBlur stdDeviation="2.4"/></filter>
<clipPath id="box3"><rect x="120.5" y="734.7" width="720" height="161"/></clipPath>
<path id="h63" d="M480.5 737.6C447 737.6 405.1 738 380 738.3C354.9 738.5 346.8 738.7 330 739.1C313.2 739.5 293 739.9 279.3 740.7C265.6 741.5 256.3 742.4 248 743.8C239.7 745.2 234 747.1 229.3 749.3C224.6 751.5 222.5 753.7 220 757.1C217.5 760.5 215.4 763.9 214.5 769.6C213.6 775.3 214.1 785.7 214.5 791.4C214.9 797.1 217.5 799.7 216.8 803.9C216.2 808.1 212.9 812 210.6 816.4C208.3 820.8 204.1 825.8 202.8 830.5C201.5 835.2 201.5 841.5 202.8 844.5C204.1 847.5 207.2 847.9 210.6 848.4C214 848.9 218.9 849 223.1 847.6C227.3 846.2 231.4 842.9 235.6 839.8C239.8 836.7 244.4 832.5 248 828.9C251.6 825.3 254.3 821.4 257.4 818C260.5 814.6 263.1 811.2 266.8 808.6C270.5 806 274.1 804 279.3 802.4C284.5 800.8 289.6 799.8 298 799.2C306.4 798.6 313 798.7 330 798.7C347 798.8 374.9 799.3 400 799.5C425.1 799.7 453.7 800 480.5 800C507.3 800 535.9 799.7 561 799.5C586.1 799.3 614 798.8 631 798.7C648 798.7 654.5 798.6 663 799.2C671.5 799.8 676.5 800.8 681.7 802.4C686.9 804 690.6 806 694.2 808.6C697.9 811.2 700.5 814.6 703.6 818C706.7 821.4 709.4 825.3 713 828.9C716.6 832.5 721.2 836.7 725.4 839.8C729.5 842.9 733.7 846.2 737.9 847.6C742.1 849 747 848.9 750.4 848.4C753.8 847.9 756.9 847.5 758.2 844.5C759.5 841.5 759.5 835.2 758.2 830.5C756.9 825.8 752.7 820.8 750.4 816.4C748.1 812 744.9 808.1 744.2 803.9C743.6 799.7 746.1 797.1 746.5 791.4C746.9 785.7 747.4 775.3 746.5 769.6C745.6 763.9 743.5 760.5 741 757.1C738.5 753.7 736.4 751.5 731.7 749.3C727 747.1 721.3 745.2 713 743.8C704.7 742.4 695.4 741.5 681.7 740.7C668 739.9 647.8 739.5 631 739.1C614.2 738.7 606.1 738.5 581 738.3C555.9 738 514 737.6 480.5 737.6Z"/>
<clipPath id="hc64"><rect x="100" y="741.2" width="169" height="200"/><rect x="692" y="741.2" width="169" height="200"/></clipPath>
<clipPath id="hc65"><rect x="269" y="741.2" width="423" height="200"/></clipPath>
<clipPath id="hc66"><rect x="100" y="724.7" width="760" height="16.5"/></clipPath>
<filter id="bl16" filterUnits="userSpaceOnUse" x="90" y="80" width="780" height="830"><feGaussianBlur stdDeviation="7.0"/></filter>
<path id="p67" d="M480.5 737.6C447 737.6 405.1 738 380 738.3C354.9 738.5 346.8 738.7 330 739.1C313.2 739.5 293 739.9 279.3 740.7C265.6 741.5 256.3 742.4 248 743.8C239.7 745.2 234 747.1 229.3 749.3C224.6 751.5 222.5 753.7 220 757.1C217.5 760.5 215.4 763.9 214.5 769.6C213.6 775.3 214.1 785.7 214.5 791.4C214.9 797.1 217.5 799.7 216.8 803.9C216.2 808.1 212.9 812 210.6 816.4C208.3 820.8 204.1 825.8 202.8 830.5C201.5 835.2 201.5 841.5 202.8 844.5C204.1 847.5 207.2 847.9 210.6 848.4C214 848.9 218.9 849 223.1 847.6C227.3 846.2 231.4 842.9 235.6 839.8C239.8 836.7 244.4 832.5 248 828.9C251.6 825.3 254.3 821.4 257.4 818C260.5 814.6 263.1 811.2 266.8 808.6C270.5 806 274.1 804 279.3 802.4C284.5 800.8 289.6 799.8 298 799.2C306.4 798.6 313 798.7 330 798.7C347 798.8 374.9 799.3 400 799.5C425.1 799.7 453.7 800 480.5 800C507.3 800 535.9 799.7 561 799.5C586.1 799.3 614 798.8 631 798.7C648 798.7 654.5 798.6 663 799.2C671.5 799.8 676.5 800.8 681.7 802.4C686.9 804 690.6 806 694.2 808.6C697.9 811.2 700.5 814.6 703.6 818C706.7 821.4 709.4 825.3 713 828.9C716.6 832.5 721.2 836.7 725.4 839.8C729.5 842.9 733.7 846.2 737.9 847.6C742.1 849 747 848.9 750.4 848.4C753.8 847.9 756.9 847.5 758.2 844.5C759.5 841.5 759.5 835.2 758.2 830.5C756.9 825.8 752.7 820.8 750.4 816.4C748.1 812 744.9 808.1 744.2 803.9C743.6 799.7 746.1 797.1 746.5 791.4C746.9 785.7 747.4 775.3 746.5 769.6C745.6 763.9 743.5 760.5 741 757.1C738.5 753.7 736.4 751.5 731.7 749.3C727 747.1 721.3 745.2 713 743.8C704.7 742.4 695.4 741.5 681.7 740.7C668 739.9 647.8 739.5 631 739.1C614.2 738.7 606.1 738.5 581 738.3C555.9 738 514 737.6 480.5 737.6Z"/>
<clipPath id="c68"><use href="#p67"/></clipPath>
<path id="p69" d="M480.5 739.5C447 739.5 405.1 739.3 380 740C354.9 740.7 342.9 742.2 330 743.8C317.1 745.3 310.4 746.6 302.7 749.3C295 752 288.2 756 284 760.2C279.8 764.4 278 769.9 277.7 774.3C277.4 778.7 278.8 783.3 282.4 786.8C286 790.3 291.7 793.5 299.6 795.3C307.5 797.1 313.3 797.2 330 797.7C346.7 798.2 374.9 798.1 400 798.3C425.1 798.4 453.7 798.6 480.5 798.6C507.3 798.6 535.9 798.4 561 798.3C586.1 798.1 614.3 798.2 631 797.7C647.7 797.2 653.5 797.1 661.4 795.3C669.3 793.5 675 790.3 678.6 786.8C682.2 783.3 683.6 778.7 683.3 774.3C683 769.9 681.2 764.4 677 760.2C672.8 756 666 752 658.3 749.3C650.6 746.6 643.9 745.3 631 743.8C618.1 742.2 606.1 740.7 581 740C555.9 739.3 514 739.5 480.5 739.5Z"/>
<clipPath id="c70"><use href="#p69"/></clipPath>
<path id="p71" d="M480.5 749.3C470.3 749.3 462.9 749.3 450 750.1C437.1 750.9 416 752.7 403 754C390 755.3 381.7 756.5 372 757.9C362.3 759.3 351.5 760.8 345 762.6C338.5 764.5 335.3 767.2 333 769C330.7 770.8 331.1 771.8 331.3 773.5C331.5 775.2 331.7 776.8 334 779C336.3 781.2 338.7 784.5 345 786.8C351.3 789.1 362.3 791.6 372 793C381.7 794.4 390 794.8 403 795.4C416 796 437.1 796.2 450 796.5C462.9 796.8 470.3 797 480.5 797C490.7 797 498.1 796.8 511 796.5C523.9 796.2 545 796 558 795.4C571 794.8 579.3 794.4 589 793C598.7 791.6 609.7 789.1 616 786.8C622.3 784.5 624.7 781.2 627 779C629.3 776.8 629.5 775.2 629.7 773.5C629.9 771.8 630.3 770.8 628 769C625.7 767.2 622.5 764.5 616 762.6C609.5 760.8 598.7 759.3 589 757.9C579.3 756.5 571 755.3 558 754C545 752.7 523.9 750.9 511 750.1C498.1 749.3 490.7 749.3 480.5 749.3Z"/>
<clipPath id="c72"><use href="#p71"/></clipPath>
<path id="p73" d="M480.5 769.6C475.3 769.6 469.1 769.6 465 770C460.9 770.4 458.8 771 456 772C453.2 773 450.7 775.7 448 776C445.3 776.3 443 774.2 440 774C437 773.8 432.5 774.4 430 775C427.5 775.6 424 776.5 425 777.5C426 778.5 432.3 780.2 436 781C439.7 781.8 443.7 781.2 447 782C450.3 782.8 453 785.1 456 786C459 786.9 460.9 786.9 465 787.2C469.1 787.5 475.3 787.6 480.5 787.6C485.7 787.6 491.9 787.5 496 787.2C500.1 786.9 502 786.9 505 786C508 785.1 510.7 782.8 514 782C517.3 781.2 521.3 781.8 525 781C528.7 780.2 535 778.5 536 777.5C537 776.5 533.5 775.6 531 775C528.5 774.4 524 773.8 521 774C518 774.2 515.7 776.3 513 776C510.3 775.7 507.8 773 505 772C502.2 771 500.1 770.4 496 770C491.9 769.6 485.7 769.6 480.5 769.6Z"/>
<clipPath id="c74"><use href="#p73"/></clipPath>
</defs>
<g clip-path="url(#box0)">
<g clip-path="url(#hc2)"><use href="#h1" fill="#f0f" stroke="#f0f" stroke-width="7" stroke-linejoin="round" opacity="1.0" filter="url(#b3)"/></g><g clip-path="url(#hc3)"><use href="#h1" fill="#f0f" stroke="#f0f" stroke-width="8" stroke-linejoin="round" opacity="1.0" filter="url(#bl0)"/></g><g clip-path="url(#hc4)"><use href="#h1" fill="#f0f" stroke="#f0f" stroke-width="3.6" stroke-linejoin="round" opacity="0.8" filter="url(#bl1)"/></g>
<path d="M199 186C204.4 191.6 197.4 211 202 222C206.6 233 209.6 236.6 222 241C234.4 245.4 255.2 241.4 264 244C272.8 246.6 286.8 252 266 254C245.2 256 186.8 256.8 160 254C133.2 251.2 136 248.4 132 240C128 231.6 131.4 221.2 140 212C148.6 202.8 163.2 199.2 175 194C186.8 188.8 193.6 180.4 199 186Z" fill="#f0f" opacity="0.6" filter="url(#bl2)"/><path d="M762 186C756.6 191.6 763.6 211 759 222C754.4 233 751.4 236.6 739 241C726.6 245.4 705.8 241.4 697 244C688.2 246.6 674.2 252 695 254C715.8 256 774.2 256.8 801 254C827.8 251.2 825 248.4 829 240C833 231.6 829.6 221.2 821 212C812.4 202.8 797.8 199.2 786 194C774.2 188.8 767.4 180.4 762 186Z" fill="#f0f" opacity="0.6" filter="url(#bl2)"/>
<path d="M197 200C200.4 202.4 197.8 216 203 224C208.2 232 211.2 236.2 223 240C234.8 243.8 253.8 240.6 262 243C270.2 245.4 273.4 250.2 264 252C254.6 253.8 230.2 255.2 215 252C199.8 248.8 193.8 244 188 236C182.2 228 184.2 219.2 186 212C187.8 204.8 193.6 197.6 197 200Z" fill="#f0f" opacity="0.8" filter="url(#bl3)"/><path d="M764 200C760.6 202.4 763.2 216 758 224C752.8 232 749.8 236.2 738 240C726.2 243.8 707.2 240.6 699 243C690.8 245.4 687.6 250.2 697 252C706.4 253.8 730.8 255.2 746 252C761.2 248.8 767.2 244 773 236C778.8 228 776.8 219.2 775 212C773.2 204.8 767.4 197.6 764 200Z" fill="#f0f" opacity="0.8" filter="url(#bl3)"/>

<rect x="271" y="188.2" width="419" height="68.5" fill="#fff"/>
<rect x="120.5" y="109.7" width="52" height="74" fill="#fff"/>
<rect x="788.5" y="109.7" width="52" height="74" fill="#fff"/>
<use href="#p5" fill="rgb(66,65,211)"/><g clip-path="url(#c6)"><use href="#p5" fill="none" stroke="rgb(26,20,112)" stroke-width="16" filter="url(#bl3)"/><use href="#p7" fill="rgb(82,82,250)" stroke="rgb(82,82,250)" stroke-width="10" filter="url(#bl4)"/></g>
<g clip-path="url(#c6)"><use href="#p9" fill="rgb(82,82,250)" stroke="rgb(82,82,250)" stroke-width="10" filter="url(#bl4)"/><use href="#p27" fill="rgb(82,82,250)" stroke="rgb(82,82,250)" stroke-width="26" filter="url(#bl5)"/></g>
<use href="#p7" fill="rgb(0,136,136)"/><g clip-path="url(#c8)"><use href="#p7" fill="none" stroke="rgb(0,100,100)" stroke-width="8" filter="url(#bl6)"/><use href="#p11" fill="rgb(0,237,237)" stroke="rgb(0,237,237)" stroke-width="12" filter="url(#bl3)"/></g><use href="#p9" fill="rgb(0,136,136)"/><g clip-path="url(#c10)"><use href="#p9" fill="none" stroke="rgb(0,100,100)" stroke-width="8" filter="url(#bl6)"/><use href="#p13" fill="rgb(0,237,237)" stroke="rgb(0,237,237)" stroke-width="12" filter="url(#bl3)"/></g>
<use href="#p29" fill="rgb(76,76,236)"/><use href="#p31" fill="rgb(76,76,236)"/>
<use href="#p11" fill="rgb(0,153,0)"/><g clip-path="url(#c12)"><use href="#p11" fill="none" stroke="rgb(0,96,0)" stroke-width="7" filter="url(#bl7)"/><use href="#p15" fill="rgb(0,250,0)" stroke="rgb(0,250,0)" stroke-width="12" filter="url(#bl4)"/></g><use href="#p13" fill="rgb(0,153,0)"/><g clip-path="url(#c14)"><use href="#p13" fill="none" stroke="rgb(0,96,0)" stroke-width="7" filter="url(#bl7)"/><use href="#p17" fill="rgb(0,250,0)" stroke="rgb(0,250,0)" stroke-width="12" filter="url(#bl4)"/></g>
<use href="#p15" fill="rgb(171,167,0)"/><g clip-path="url(#c16)"><use href="#p15" fill="none" stroke="rgb(108,101,0)" stroke-width="8" filter="url(#bl6)"/><use href="#p19" fill="rgb(250,250,0)" stroke="rgb(250,250,0)" stroke-width="14" filter="url(#bl8)"/></g><use href="#p17" fill="rgb(171,167,0)"/><g clip-path="url(#c18)"><use href="#p17" fill="none" stroke="rgb(108,101,0)" stroke-width="8" filter="url(#bl6)"/><use href="#p21" fill="rgb(250,250,0)" stroke="rgb(250,250,0)" stroke-width="14" filter="url(#bl8)"/></g>
<use href="#p19" fill="rgb(119,66,0)"/><use href="#p21" fill="rgb(119,66,0)"/>
<use href="#p23" fill="rgb(116,63,0)"/><use href="#p25" fill="rgb(116,63,0)"/>
<use href="#p27" fill="rgb(0,94,94)"/>
</g>
<path d="M787.2 256.7v-4M787.2 95.7v4M683.8 256.7v-4M683.8 95.7v4M580.9 256.7v-4M580.9 95.7v4M480.8 256.7v-4M480.8 95.7v4M380.7 256.7v-4M380.7 95.7v4M277.8 256.7v-4M277.8 95.7v4M174.4 256.7v-4M174.4 95.7v4M120.5 141.7h4M840.5 141.7h-4M120.5 187.7h4M840.5 187.7h-4" stroke="#333" stroke-width="0.8" fill="none"/>
<rect x="120.5" y="95.7" width="720" height="161" fill="none" stroke="#0000a0" stroke-width="2.7"/>
<path d="M121.5 110.2H171M790 110.2H839.5" stroke="#0000ee" stroke-width="4.8" stroke-linecap="round" fill="none"/>
<path d="M121.5 186.5H171M790 186.5H839.5" stroke="#0000ee" stroke-width="4.8" stroke-linecap="round" fill="none"/>
<path d="M270.7 189.2V255.7M690.3 189.2V255.7" stroke="#0000ee" stroke-width="4.8" stroke-linecap="round" fill="none"/>
<rect x="120.7" y="113.9" width="51.6" height="69.2" fill="none" stroke="#d61414" stroke-width="2.6"/>
<rect x="788.7" y="113.9" width="51.6" height="69.2" fill="none" stroke="#d61414" stroke-width="2.6"/>
<path d="M274.5 256.7V188.7H686.5V256.7" fill="none" stroke="#d61414" stroke-width="2.6"/>
<path d="M274.5 256.7H686.5" fill="none" stroke="#d61414" stroke-width="2.2"/>
<g clip-path="url(#box1)">
<g clip-path="url(#hc34)"><use href="#h33" fill="#f0f" stroke="#f0f" stroke-width="8" stroke-linejoin="round" opacity="1.0" filter="url(#b3)"/></g><g clip-path="url(#hc35)"><use href="#h33" fill="#f0f" stroke="#f0f" stroke-width="8" stroke-linejoin="round" opacity="1.0" filter="url(#bl9)"/></g><g clip-path="url(#hc36)"><use href="#h33" fill="#f0f" stroke="#f0f" stroke-width="3.6" stroke-linejoin="round" opacity="0.8" filter="url(#bl1)"/></g>
<path d="M205 392C207 395.2 200.6 405.2 196 414C191.4 422.8 186.2 429.2 182 436C177.8 442.8 175.2 443.6 175 448C174.8 452.4 175 454.6 181 458C187 461.4 212.8 463.6 205 465C197.2 466.4 156.8 469 142 465C127.2 461 132.6 454 131 445C129.4 436 128.6 427.4 134 420C139.4 412.6 147.6 412.4 158 408C168.4 403.6 176.6 401.2 186 398C195.4 394.8 203 388.8 205 392Z" fill="#f0f" opacity="0.6" filter="url(#bl10)"/><path d="M756 392C754 395.2 760.4 405.2 765 414C769.6 422.8 774.8 429.2 779 436C783.2 442.8 785.8 443.6 786 448C786.2 452.4 786 454.6 780 458C774 461.4 748.2 463.6 756 465C763.8 466.4 804.2 469 819 465C833.8 461 828.4 454 830 445C831.6 436 832.4 427.4 827 420C821.6 412.6 813.4 412.4 803 408C792.6 403.6 784.4 401.2 775 398C765.6 394.8 758 388.8 756 392Z" fill="#f0f" opacity="0.6" filter="url(#bl10)"/>
<path d="M203 400C205.8 401.6 197 412 192 420C187 428 181.6 434 178 440C174.4 446 173.6 446 174 450C174.4 454 174.8 457.2 180 460C185.2 462.8 204 463.2 200 464C196 464.8 170.8 467.2 160 464C149.2 460.8 147.6 455.2 146 448C144.4 440.8 145.6 435.2 152 428C158.4 420.8 167.8 417.6 178 412C188.2 406.4 200.2 398.4 203 400Z" fill="#f0f" opacity="0.7" filter="url(#bl8)"/><path d="M758 400C755.2 401.6 764 412 769 420C774 428 779.4 434 783 440C786.6 446 787.4 446 787 450C786.6 454 786.2 457.2 781 460C775.8 462.8 757 463.2 761 464C765 464.8 790.2 467.2 801 464C811.8 460.8 813.4 455.2 815 448C816.6 440.8 815.4 435.2 809 428C802.6 420.8 793.2 417.6 783 412C772.8 406.4 760.8 398.4 758 400Z" fill="#f0f" opacity="0.7" filter="url(#bl8)"/>
<rect x="262" y="374" width="437" height="28" fill="url(#g_strip)" filter="url(#b3)"/>
<rect x="271" y="401.2" width="419" height="68.5" fill="#fff"/>
<rect x="120.5" y="322.7" width="52" height="74" fill="#fff"/>
<rect x="788.5" y="322.7" width="52" height="74" fill="#fff"/>
<use href="#p37" fill="rgb(66,65,211)"/><g clip-path="url(#c38)"><use href="#p37" fill="none" stroke="rgb(26,20,112)" stroke-width="18" filter="url(#bl8)"/><use href="#p39" fill="rgb(82,82,250)" stroke="rgb(82,82,250)" stroke-width="16" filter="url(#bl10)"/></g>
<use href="#p39" fill="rgb(0,137,137)"/><g clip-path="url(#c40)"><use href="#p39" fill="none" stroke="rgb(0,92,92)" stroke-width="9" filter="url(#bl11)"/><use href="#p41" fill="rgb(0,232,232)" stroke="rgb(0,232,232)" stroke-width="16" filter="url(#bl10)"/></g>
<use href="#p41" fill="rgb(0,169,0)"/><g clip-path="url(#c42)"><use href="#p41" fill="none" stroke="rgb(0,96,0)" stroke-width="9" filter="url(#bl11)"/><use href="#p43" fill="rgb(0,234,0)" stroke="rgb(0,234,0)" stroke-width="14" filter="url(#bl8)"/></g>
<g clip-path="url(#c42)"><use href="#p45" fill="rgb(0,234,0)" stroke="rgb(0,234,0)" stroke-width="14" filter="url(#bl8)"/></g>
<use href="#p43" fill="rgb(122,96,10)"/><use href="#p45" fill="rgb(122,96,10)"/>
<path d="M469 348.5H492M463 355.5H498M466 352H495" stroke="#00d8d8" stroke-width="1.4" opacity=".8"/>
</g>
<path d="M787.2 469.7v-4M787.2 308.7v4M683.8 469.7v-4M683.8 308.7v4M580.9 469.7v-4M580.9 308.7v4M480.8 469.7v-4M480.8 308.7v4M380.7 469.7v-4M380.7 308.7v4M277.8 469.7v-4M277.8 308.7v4M174.4 469.7v-4M174.4 308.7v4M120.5 354.7h4M840.5 354.7h-4M120.5 400.7h4M840.5 400.7h-4" stroke="#333" stroke-width="0.8" fill="none"/>
<rect x="120.5" y="308.7" width="720" height="161" fill="none" stroke="#0000a0" stroke-width="2.7"/>
<path d="M121.5 323.2H171M790 323.2H839.5" stroke="#0000ee" stroke-width="4.8" stroke-linecap="round" fill="none"/>
<path d="M121.5 399.5H171M790 399.5H839.5" stroke="#0000ee" stroke-width="4.8" stroke-linecap="round" fill="none"/>
<path d="M270.7 402.2V468.7M690.3 402.2V468.7" stroke="#0000ee" stroke-width="4.8" stroke-linecap="round" fill="none"/>
<rect x="120.7" y="326.9" width="51.6" height="69.2" fill="none" stroke="#d61414" stroke-width="2.6"/>
<rect x="788.7" y="326.9" width="51.6" height="69.2" fill="none" stroke="#d61414" stroke-width="2.6"/>
<path d="M274.5 469.7V401.7H686.5V469.7" fill="none" stroke="#d61414" stroke-width="2.6"/>
<path d="M274.5 469.7H686.5" fill="none" stroke="#d61414" stroke-width="2.2"/>
<g clip-path="url(#box2)">
<g clip-path="url(#hc48)"><use href="#h47" fill="#f0f" stroke="#f0f" stroke-width="7" stroke-linejoin="round" opacity="1.0" filter="url(#b4)"/></g><g clip-path="url(#hc49)"><use href="#h47" fill="#f0f" stroke="#f0f" stroke-width="2.5" stroke-linejoin="round" opacity="1.0" filter="url(#bl12)"/></g>
<path d="M203 532C206.6 526.8 213.8 523.4 216 534C218.2 544.6 212.8 569.4 214 585C215.2 600.6 211.2 609 222 612C232.8 615 258.8 586.4 268 600C277.2 613.6 292.6 664 268 680C243.4 696 171 688 145 680C119 672 137 654.4 138 640C139 625.6 138.4 616.4 150 608C161.6 599.6 186.4 607.6 196 598C205.6 588.4 196.6 573.2 198 560C199.4 546.8 199.4 537.2 203 532Z" fill="#f0f" opacity="0.5" filter="url(#bl2)"/><path d="M758 532C754.4 526.8 747.2 523.4 745 534C742.8 544.6 748.2 569.4 747 585C745.8 600.6 749.8 609 739 612C728.2 615 702.2 586.4 693 600C683.8 613.6 668.4 664 693 680C717.6 696 790 688 816 680C842 672 824 654.4 823 640C822 625.6 822.6 616.4 811 608C799.4 599.6 774.6 607.6 765 598C755.4 588.4 764.4 573.2 763 560C761.6 546.8 761.6 537.2 758 532Z" fill="#f0f" opacity="0.5" filter="url(#bl2)"/>
<path d="M216 600C222.6 599.4 218.8 620.8 228 622C237.2 623.2 254 605.4 262 606C270 606.6 266.8 610.6 268 625C269.2 639.4 278.6 667.8 268 678C257.4 688.2 230.6 679.6 215 676C199.4 672.4 194 670.2 190 660C186 649.8 189.8 637 195 625C200.2 613 209.4 600.6 216 600Z" fill="#f0f" opacity="0.75" filter="url(#bl10)"/><path d="M745 600C738.4 599.4 742.2 620.8 733 622C723.8 623.2 707 605.4 699 606C691 606.6 694.2 610.6 693 625C691.8 639.4 682.4 667.8 693 678C703.6 688.2 730.4 679.6 746 676C761.6 672.4 767 670.2 771 660C775 649.8 771.2 637 766 625C760.8 613 751.6 600.6 745 600Z" fill="#f0f" opacity="0.75" filter="url(#bl10)"/>

<rect x="271" y="614.2" width="419" height="68.5" fill="#fff"/>
<rect x="120.5" y="535.7" width="52" height="74" fill="#fff"/>
<rect x="788.5" y="535.7" width="52" height="74" fill="#fff"/>
<use href="#p51" fill="rgb(66,65,211)"/><g clip-path="url(#c52)"><use href="#p51" fill="none" stroke="rgb(26,20,112)" stroke-width="16" filter="url(#bl3)"/><use href="#p53" fill="rgb(82,82,250)" stroke="rgb(82,82,250)" stroke-width="14" filter="url(#bl8)"/></g>
<use href="#p53" fill="rgb(0,156,156)"/><g clip-path="url(#c54)"><use href="#p53" fill="none" stroke="rgb(0,92,92)" stroke-width="7" filter="url(#bl7)"/><use href="#p55" fill="rgb(0,245,245)" stroke="rgb(0,245,245)" stroke-width="12" filter="url(#bl4)"/></g>
<use href="#p55" fill="rgb(0,161,0)"/><g clip-path="url(#c56)"><use href="#p55" fill="none" stroke="rgb(0,96,0)" stroke-width="6" filter="url(#bl13)"/><use href="#p57" fill="rgb(0,250,0)" stroke="rgb(0,250,0)" stroke-width="10" filter="url(#bl14)"/></g>
<use href="#p57" fill="rgb(163,159,0)"/><g clip-path="url(#c58)"><use href="#p57" fill="none" stroke="rgb(108,101,0)" stroke-width="6" filter="url(#bl13)"/><use href="#p59" fill="rgb(250,250,0)" stroke="rgb(250,250,0)" stroke-width="10" filter="url(#bl14)"/></g>
<use href="#p59" fill="rgb(170,103,0)"/><g clip-path="url(#c60)"><use href="#p59" fill="none" stroke="rgb(116,63,0)" stroke-width="6" filter="url(#bl13)"/><use href="#p61" fill="rgb(255,165,0)" stroke="rgb(255,165,0)" stroke-width="10" filter="url(#bl14)"/></g>
<use href="#p61" fill="rgb(248,0,0)"/><g clip-path="url(#c62)"><use href="#p61" fill="none" stroke="rgb(128,0,0)" stroke-width="7" filter="url(#bl15)"/></g>
</g>
<path d="M787.2 682.7v-4M787.2 521.7v4M683.8 682.7v-4M683.8 521.7v4M580.9 682.7v-4M580.9 521.7v4M480.8 682.7v-4M480.8 521.7v4M380.7 682.7v-4M380.7 521.7v4M277.8 682.7v-4M277.8 521.7v4M174.4 682.7v-4M174.4 521.7v4M120.5 567.7h4M840.5 567.7h-4M120.5 613.7h4M840.5 613.7h-4" stroke="#333" stroke-width="0.8" fill="none"/>
<rect x="120.5" y="521.7" width="720" height="161" fill="none" stroke="#0000a0" stroke-width="2.7"/>
<path d="M121.5 536.2H171M790 536.2H839.5" stroke="#0000ee" stroke-width="4.8" stroke-linecap="round" fill="none"/>
<path d="M121.5 612.5H171M790 612.5H839.5" stroke="#0000ee" stroke-width="4.8" stroke-linecap="round" fill="none"/>
<path d="M270.7 615.2V681.7M690.3 615.2V681.7" stroke="#0000ee" stroke-width="4.8" stroke-linecap="round" fill="none"/>
<rect x="120.7" y="539.9" width="51.6" height="69.2" fill="none" stroke="#d61414" stroke-width="2.6"/>
<rect x="788.7" y="539.9" width="51.6" height="69.2" fill="none" stroke="#d61414" stroke-width="2.6"/>
<path d="M274.5 682.7V614.7H686.5V682.7" fill="none" stroke="#d61414" stroke-width="2.6"/>
<path d="M274.5 682.7H686.5" fill="none" stroke="#d61414" stroke-width="2.2"/>
<g clip-path="url(#box3)">
<g clip-path="url(#hc64)"><use href="#h63" fill="#f0f" stroke="#f0f" stroke-width="8" stroke-linejoin="round" opacity="1.0" filter="url(#b4)"/></g><g clip-path="url(#hc65)"><use href="#h63" fill="#f0f" stroke="#f0f" stroke-width="2.5" stroke-linejoin="round" opacity="1.0" filter="url(#bl12)"/></g><g clip-path="url(#hc66)"><use href="#h63" fill="#f0f" stroke="#f0f" stroke-width="3.6" stroke-linejoin="round" opacity="0.8" filter="url(#bl1)"/></g>
<path d="M185 750C196.4 742.2 228.8 739 235 741C241.2 743 220.6 748.2 216 760C211.4 771.8 215.2 786 212 800C208.8 814 201.4 820 200 830C198.6 840 192.6 851.6 205 850C217.4 848.4 249.4 824 262 822C274.6 820 267.2 827.2 268 840C268.8 852.8 289.6 876.8 266 886C242.4 895.2 174.8 893.2 150 886C125.2 878.8 141.6 862 142 850C142.4 838 144 833.2 152 826C160 818.8 176.8 823.2 182 814C187.2 804.8 177.4 792.8 178 780C178.6 767.2 173.6 757.8 185 750Z" fill="#f0f" opacity="0.42" filter="url(#bl16)"/><path d="M776 750C764.6 742.2 732.2 739 726 741C719.8 743 740.4 748.2 745 760C749.6 771.8 745.8 786 749 800C752.2 814 759.6 820 761 830C762.4 840 768.4 851.6 756 850C743.6 848.4 711.6 824 699 822C686.4 820 693.8 827.2 693 840C692.2 852.8 671.4 876.8 695 886C718.6 895.2 786.2 893.2 811 886C835.8 878.8 819.4 862 819 850C818.6 838 817 833.2 809 826C801 818.8 784.2 823.2 779 814C773.8 804.8 783.6 792.8 783 780C782.4 767.2 787.4 757.8 776 750Z" fill="#f0f" opacity="0.42" filter="url(#bl16)"/>
<path d="M204 812C206 811.2 198.8 824.4 198 832C197.2 839.6 194.6 846 200 850C205.4 854 212.6 857.6 225 852C237.4 846.4 253.4 822.4 262 822C270.6 821.6 268 837.6 268 850C268 862.4 272.6 877.2 262 884C251.4 890.8 229.4 887.6 215 884C200.6 880.4 195.4 875.6 190 866C184.6 856.4 185.2 846.8 188 836C190.8 825.2 202 812.8 204 812Z" fill="#f0f" opacity="0.45" filter="url(#bl10)"/><path d="M757 812C755 811.2 762.2 824.4 763 832C763.8 839.6 766.4 846 761 850C755.6 854 748.4 857.6 736 852C723.6 846.4 707.6 822.4 699 822C690.4 821.6 693 837.6 693 850C693 862.4 688.4 877.2 699 884C709.6 890.8 731.6 887.6 746 884C760.4 880.4 765.6 875.6 771 866C776.4 856.4 775.8 846.8 773 836C770.2 825.2 759 812.8 757 812Z" fill="#f0f" opacity="0.45" filter="url(#bl10)"/>

<rect x="271" y="827.2" width="419" height="68.5" fill="#fff"/>
<rect x="120.5" y="748.7" width="52" height="74" fill="#fff"/>
<rect x="788.5" y="748.7" width="52" height="74" fill="#fff"/>
<use href="#p67" fill="rgb(54,51,181)"/><g clip-path="url(#c68)"><use href="#p67" fill="none" stroke="rgb(26,20,112)" stroke-width="20" filter="url(#bl10)"/><use href="#p69" fill="rgb(82,82,250)" stroke="rgb(82,82,250)" stroke-width="22" filter="url(#bl2)"/></g>
<use href="#p69" fill="rgb(0,137,137)"/><g clip-path="url(#c70)"><use href="#p69" fill="none" stroke="rgb(0,92,92)" stroke-width="9" filter="url(#bl11)"/><use href="#p71" fill="rgb(0,232,232)" stroke="rgb(0,232,232)" stroke-width="16" filter="url(#bl10)"/></g>
<use href="#p71" fill="rgb(0,169,0)"/><g clip-path="url(#c72)"><use href="#p71" fill="none" stroke="rgb(0,96,0)" stroke-width="9" filter="url(#bl11)"/><use href="#p73" fill="rgb(0,226,0)" stroke="rgb(0,226,0)" stroke-width="16" filter="url(#bl10)"/></g>
<use href="#p73" fill="rgb(122,96,10)"/>
</g>
<path d="M787.2 895.7v-4M787.2 734.7v4M683.8 895.7v-4M683.8 734.7v4M580.9 895.7v-4M580.9 734.7v4M480.8 895.7v-4M480.8 734.7v4M380.7 895.7v-4M380.7 734.7v4M277.8 895.7v-4M277.8 734.7v4M174.4 895.7v-4M174.4 734.7v4M120.5 780.7h4M840.5 780.7h-4M120.5 826.7h4M840.5 826.7h-4" stroke="#333" stroke-width="0.8" fill="none"/>
<rect x="120.5" y="734.7" width="720" height="161" fill="none" stroke="#0000a0" stroke-width="2.7"/>
<path d="M121.5 749.2H171M790 749.2H839.5" stroke="#0000ee" stroke-width="4.8" stroke-linecap="round" fill="none"/>
<path d="M121.5 825.5H171M790 825.5H839.5" stroke="#0000ee" stroke-width="4.8" stroke-linecap="round" fill="none"/>
<path d="M270.7 828.2V894.7M690.3 828.2V894.7" stroke="#0000ee" stroke-width="4.8" stroke-linecap="round" fill="none"/>
<rect x="120.7" y="752.9" width="51.6" height="69.2" fill="none" stroke="#d61414" stroke-width="2.6"/>
<rect x="788.7" y="752.9" width="51.6" height="69.2" fill="none" stroke="#d61414" stroke-width="2.6"/>
<path d="M274.5 895.7V827.7H686.5V895.7" fill="none" stroke="#d61414" stroke-width="2.6"/>
<path d="M274.5 895.7H686.5" fill="none" stroke="#d61414" stroke-width="2.2"/>
<rect x="860.3" y="406.8" width="35.5" height="33.6" fill="url(#g_mag)"/>
<rect x="860.3" y="373.3" width="35.5" height="33.6" fill="url(#g_blue)"/>
<rect x="860.3" y="339.9" width="35.5" height="33.6" fill="url(#g_cyan)"/>
<rect x="860.3" y="306.5" width="35.5" height="33.6" fill="url(#g_green)"/>
<rect x="860.3" y="273.1" width="35.5" height="33.6" fill="url(#g_yellow)"/>
<rect x="860.3" y="239.6" width="35.5" height="33.6" fill="url(#g_orange)"/>
<rect x="860.3" y="206.2" width="35.5" height="33.6" fill="url(#g_red)"/>
<rect x="860.3" y="206.2" width="35.5" height="234" fill="none" stroke="#333" stroke-width="0.8"/>
<g fill="#000" stroke="#000" stroke-width="0.35"><text x="913" y="216.5" font-size="26.6" text-anchor="start">12</text>
<text x="913" y="274.8" font-size="26.6" text-anchor="start">9</text>
<text x="913" y="333.1" font-size="26.6" text-anchor="start">6</text>
<text x="913" y="391.4" font-size="26.6" text-anchor="start">3</text>
<text x="913" y="449.7" font-size="26.6" text-anchor="start">0</text>
<text x="845.2" y="104.8" font-size="26.6" text-anchor="start">Ionization</text>
<text x="845.2" y="134.9" font-size="26.6" text-anchor="start">rate</text>
<text x="845.2" y="166.4" font-size="26.6" text-anchor="start">[10<tspan font-size="20.6" dy="-8.8">20</tspan><tspan dy="8.8"> m</tspan><tspan font-size="20.6" dy="-8.8">-3</tspan><tspan dy="8.8"> s</tspan><tspan font-size="20.6" dy="-8.8">-1</tspan><tspan dy="8.8">]</tspan></text>
<text x="493.5" y="24.6" font-size="30.4" text-anchor="middle">ϕ = 180°</text>
<text x="121" y="84.4" font-size="26.6" text-anchor="start">(a1)</text>
<text x="480.5" y="83.7" font-size="26.6" text-anchor="middle">t<tspan font-size="21" dy="5.6">1</tspan><tspan dy="-5.6">/T</tspan><tspan font-size="21" dy="5.6">RF</tspan><tspan dy="-5.6"> = -0.25</tspan></text>
<text x="102" y="105" font-size="26.6" text-anchor="end">7</text>
<text x="102" y="151" font-size="26.6" text-anchor="end">5</text>
<text x="102" y="197" font-size="26.6" text-anchor="end">3</text>
<text x="102" y="266.8" font-size="26.6" text-anchor="end">0</text>
<text transform="translate(39 175.7) rotate(-90)" font-size="26.6" text-anchor="middle">z [cm]</text>
<text x="121" y="297.4" font-size="26.6" text-anchor="start">(a2)</text>
<text x="480.5" y="296.7" font-size="26.6" text-anchor="middle">t<tspan font-size="21" dy="5.6">2</tspan><tspan dy="-5.6">/T</tspan><tspan font-size="21" dy="5.6">RF</tspan><tspan dy="-5.6"> = 0.0</tspan></text>
<text x="102" y="318" font-size="26.6" text-anchor="end">7</text>
<text x="102" y="364" font-size="26.6" text-anchor="end">5</text>
<text x="102" y="410" font-size="26.6" text-anchor="end">3</text>
<text x="102" y="479.8" font-size="26.6" text-anchor="end">0</text>
<text transform="translate(39 388.7) rotate(-90)" font-size="26.6" text-anchor="middle">z [cm]</text>
<text x="121" y="510.4" font-size="26.6" text-anchor="start">(a3)</text>
<text x="480.5" y="509.7" font-size="26.6" text-anchor="middle">t<tspan font-size="21" dy="5.6">3</tspan><tspan dy="-5.6">/T</tspan><tspan font-size="21" dy="5.6">RF</tspan><tspan dy="-5.6"> = 0.25</tspan></text>
<text x="102" y="531" font-size="26.6" text-anchor="end">7</text>
<text x="102" y="577" font-size="26.6" text-anchor="end">5</text>
<text x="102" y="623" font-size="26.6" text-anchor="end">3</text>
<text x="102" y="692.8" font-size="26.6" text-anchor="end">0</text>
<text transform="translate(39 601.7) rotate(-90)" font-size="26.6" text-anchor="middle">z [cm]</text>
<text x="121" y="723.4" font-size="26.6" text-anchor="start">(a4)</text>
<text x="480.5" y="722.7" font-size="26.6" text-anchor="middle">t<tspan font-size="21" dy="5.6">4</tspan><tspan dy="-5.6">/T</tspan><tspan font-size="21" dy="5.6">RF</tspan><tspan dy="-5.6"> = 0.50</tspan></text>
<text x="102" y="744" font-size="26.6" text-anchor="end">7</text>
<text x="102" y="790" font-size="26.6" text-anchor="end">5</text>
<text x="102" y="836" font-size="26.6" text-anchor="end">3</text>
<text x="102" y="905.8" font-size="26.6" text-anchor="end">0</text>
<text transform="translate(39 814.7) rotate(-90)" font-size="26.6" text-anchor="middle">z [cm]</text>
<text x="120.7" y="926.9" font-size="26.6" text-anchor="middle">14</text>
<text x="174.3" y="926.9" font-size="26.6" text-anchor="middle">12</text>
<text x="277.3" y="926.9" font-size="26.6" text-anchor="middle">8</text>
<text x="380.3" y="926.9" font-size="26.6" text-anchor="middle">4</text>
<text x="480.9" y="926.9" font-size="26.6" text-anchor="middle">0</text>
<text x="580.7" y="926.9" font-size="26.6" text-anchor="middle">4</text>
<text x="683.8" y="926.9" font-size="26.6" text-anchor="middle">8</text>
<text x="787.3" y="926.9" font-size="26.6" text-anchor="middle">12</text>
<text x="840.8" y="926.9" font-size="26.6" text-anchor="middle">14</text>
<text x="480.5" y="973.5" font-size="26.6" text-anchor="middle">r [cm]</text></g>
<path d="M304.2 1040.7V1360.5" stroke="#000" stroke-width="1" stroke-dasharray="2 2.2" fill="none"/>
<path d="M484.5 1040.7V1360.5" stroke="#000" stroke-width="1" stroke-dasharray="2 2.2" fill="none"/>
<path d="M664.8 1040.7V1360.5" stroke="#000" stroke-width="1" stroke-dasharray="2 2.2" fill="none"/>
<path d="M124 1067.4h7M124 1093.9h7M124 1120.5h7M124 1147h7M124 1173.6h7M124 1296.5h7M124 1232.6h7" stroke="#000" stroke-width="1" fill="none"/>
<path d="M124 1129.8L127.6 1127.7L131.2 1125.6L134.8 1123.5L138.4 1121.5L142 1119.4L145.6 1117.3L149.2 1115.3L152.8 1113.3L156.4 1111.3L160 1109.3L163.7 1107.3L167.3 1105.3L170.9 1103.4L174.5 1101.5L178.1 1099.6L181.7 1097.8L185.3 1096L188.9 1094.2L192.5 1092.5L196.1 1090.8L199.7 1089.1L203.3 1087.5L206.9 1085.9L210.5 1084.3L214.1 1082.9L217.7 1081.4L221.3 1080L224.9 1078.6L228.5 1077.3L232.1 1076.1L235.8 1074.9L239.4 1073.7L243 1072.7L246.6 1071.6L250.2 1070.7L253.8 1069.7L257.4 1068.9L261 1068.1L264.6 1067.3L268.2 1066.7L271.8 1066.1L275.4 1065.5L279 1065L282.6 1064.6L286.2 1064.2L289.8 1063.9L293.4 1063.7L297 1063.5L300.6 1063.5L304.2 1063.4L307.9 1063.5L311.5 1063.5L315.1 1063.7L318.7 1063.9L322.3 1064.2L325.9 1064.6L329.5 1065L333.1 1065.5L336.7 1066.1L340.3 1066.7L343.9 1067.3L347.5 1068.1L351.1 1068.9L354.7 1069.7L358.3 1070.7L361.9 1071.6L365.5 1072.7L369.1 1073.7L372.7 1074.9L376.4 1076.1L380 1077.3L383.6 1078.6L387.2 1080L390.8 1081.4L394.4 1082.9L398 1084.3L401.6 1085.9L405.2 1087.5L408.8 1089.1L412.4 1090.8L416 1092.5L419.6 1094.2L423.2 1096L426.8 1097.8L430.4 1099.6L434 1101.5L437.6 1103.4L441.2 1105.3L444.8 1107.3L448.4 1109.3L452.1 1111.3L455.7 1113.3L459.3 1115.3L462.9 1117.3L466.5 1119.4L470.1 1121.5L473.7 1123.5L477.3 1125.6L480.9 1127.7L484.5 1129.8L488.1 1131.9L491.7 1133.9L495.3 1136L498.9 1138.1L502.5 1140.1L506.1 1142.2L509.7 1144.2L513.3 1146.3L516.9 1148.3L520.5 1150.3L524.2 1152.2L527.8 1154.2L531.4 1156.1L535 1158L538.6 1159.9L542.2 1161.7L545.8 1163.5L549.4 1165.3L553 1167.1L556.6 1168.8L560.2 1170.4L563.8 1172.1L567.4 1173.6L571 1175.2L574.6 1176.7L578.2 1178.1L581.8 1179.5L585.4 1180.9L589 1182.2L592.7 1183.4L596.3 1184.6L599.9 1185.8L603.5 1186.9L607.1 1187.9L610.7 1188.9L614.3 1189.8L617.9 1190.7L621.5 1191.5L625.1 1192.2L628.7 1192.9L632.3 1193.5L635.9 1194L639.5 1194.5L643.1 1194.9L646.7 1195.3L650.3 1195.6L653.9 1195.8L657.5 1196L661.1 1196.1L664.8 1196.1L668.4 1196.1L672 1196L675.6 1195.8L679.2 1195.6L682.8 1195.3L686.4 1194.9L690 1194.5L693.6 1194L697.2 1193.5L700.8 1192.9L704.4 1192.2L708 1191.5L711.6 1190.7L715.2 1189.8L718.8 1188.9L722.4 1187.9L726 1186.9L729.6 1185.8L733.2 1184.6L736.9 1183.4L740.5 1182.2L744.1 1180.9L747.7 1179.5L751.3 1178.1L754.9 1176.7L758.5 1175.2L762.1 1173.6L765.7 1172.1L769.3 1170.4L772.9 1168.8L776.5 1167.1L780.1 1165.3L783.7 1163.5L787.3 1161.7L790.9 1159.9L794.5 1158L798.1 1156.1L801.7 1154.2L805.3 1152.2L808.9 1150.3L812.6 1148.3L816.2 1146.3L819.8 1144.2L823.4 1142.2L827 1140.1L830.6 1138.1L834.2 1136L837.8 1133.9L841.4 1131.9L845 1129.8" stroke="#000" stroke-width="4.2" fill="none"/>
<path d="M124 1129.8L127.6 1131.9L131.2 1133.9L134.8 1136L138.4 1138.1L142 1140.1L145.6 1142.2L149.2 1144.2L152.8 1146.3L156.4 1148.3L160 1150.3L163.7 1152.2L167.3 1154.2L170.9 1156.1L174.5 1158L178.1 1159.9L181.7 1161.7L185.3 1163.5L188.9 1165.3L192.5 1167.1L196.1 1168.8L199.7 1170.4L203.3 1172.1L206.9 1173.6L210.5 1175.2L214.1 1176.7L217.7 1178.1L221.3 1179.5L224.9 1180.9L228.5 1182.2L232.1 1183.4L235.8 1184.6L239.4 1185.8L243 1186.9L246.6 1187.9L250.2 1188.9L253.8 1189.8L257.4 1190.7L261 1191.5L264.6 1192.2L268.2 1192.9L271.8 1193.5L275.4 1194L279 1194.5L282.6 1194.9L286.2 1195.3L289.8 1195.6L293.4 1195.8L297 1196L300.6 1196.1L304.2 1196.1L307.9 1196.1L311.5 1196L315.1 1195.8L318.7 1195.6L322.3 1195.3L325.9 1194.9L329.5 1194.5L333.1 1194L336.7 1193.5L340.3 1192.9L343.9 1192.2L347.5 1191.5L351.1 1190.7L354.7 1189.8L358.3 1188.9L361.9 1187.9L365.5 1186.9L369.1 1185.8L372.7 1184.6L376.4 1183.4L380 1182.2L383.6 1180.9L387.2 1179.5L390.8 1178.1L394.4 1176.7L398 1175.2L401.6 1173.6L405.2 1172.1L408.8 1170.4L412.4 1168.8L416 1167.1L419.6 1165.3L423.2 1163.5L426.8 1161.7L430.4 1159.9L434 1158L437.6 1156.1L441.2 1154.2L444.8 1152.2L448.4 1150.3L452.1 1148.3L455.7 1146.3L459.3 1144.2L462.9 1142.2L466.5 1140.1L470.1 1138.1L473.7 1136L477.3 1133.9L480.9 1131.9L484.5 1129.8L488.1 1127.7L491.7 1125.6L495.3 1123.5L498.9 1121.5L502.5 1119.4L506.1 1117.3L509.7 1115.3L513.3 1113.3L516.9 1111.3L520.5 1109.3L524.2 1107.3L527.8 1105.3L531.4 1103.4L535 1101.5L538.6 1099.6L542.2 1097.8L545.8 1096L549.4 1094.2L553 1092.5L556.6 1090.8L560.2 1089.1L563.8 1087.5L567.4 1085.9L571 1084.3L574.6 1082.9L578.2 1081.4L581.8 1080L585.4 1078.6L589 1077.3L592.7 1076.1L596.3 1074.9L599.9 1073.7L603.5 1072.7L607.1 1071.6L610.7 1070.7L614.3 1069.7L617.9 1068.9L621.5 1068.1L625.1 1067.3L628.7 1066.7L632.3 1066.1L635.9 1065.5L639.5 1065L643.1 1064.6L646.7 1064.2L650.3 1063.9L653.9 1063.7L657.5 1063.5L661.1 1063.5L664.8 1063.4L668.4 1063.5L672 1063.5L675.6 1063.7L679.2 1063.9L682.8 1064.2L686.4 1064.6L690 1065L693.6 1065.5L697.2 1066.1L700.8 1066.7L704.4 1067.3L708 1068.1L711.6 1068.9L715.2 1069.7L718.8 1070.7L722.4 1071.6L726 1072.7L729.6 1073.7L733.2 1074.9L736.9 1076.1L740.5 1077.3L744.1 1078.6L747.7 1080L751.3 1081.4L754.9 1082.9L758.5 1084.3L762.1 1085.9L765.7 1087.5L769.3 1089.1L772.9 1090.8L776.5 1092.5L780.1 1094.2L783.7 1096L787.3 1097.8L790.9 1099.6L794.5 1101.5L798.1 1103.4L801.7 1105.3L805.3 1107.3L808.9 1109.3L812.6 1111.3L816.2 1113.3L819.8 1115.3L823.4 1117.3L827 1119.4L830.6 1121.5L834.2 1123.5L837.8 1125.6L841.4 1127.7L845 1129.8" stroke="#000" stroke-width="4.2" stroke-dasharray="10.2 6.8" fill="none"/>
<path d="M122.5 1295.5L123.5 1296.4L124.6 1296.4L125.6 1296.1L126.7 1296.5L127.7 1296.6L128.7 1297L129.8 1297.3L130.8 1296.8L131.9 1297L132.9 1298L133.9 1297.9L135 1298.5L136 1297.9L137.1 1298.7L138.1 1299.2L139.2 1299L140.2 1300L141.2 1300.2L142.3 1299.6L143.3 1299.9L144.4 1300.7L145.4 1301.4L146.4 1301.1L147.4 1301.1L148.4 1301.4L149.4 1301.2L150.4 1301.6L151.4 1302L152.4 1302.2L153.4 1302.1L154.4 1302.3L155.4 1302.5L156.4 1302.9L157.4 1302.9L158.4 1302.8L159.4 1303.9L160.4 1303.8L161.4 1304L162.4 1303.8L163.4 1304.8L164.4 1304.9L165.4 1304.3L166.4 1304.7L167.4 1305.3L168.4 1305.6L169.4 1306L170.4 1305.7L171.4 1306.3L172.4 1306.4L173.4 1306.3L174.4 1306.8L175.4 1307.3L176.4 1307.6L177.4 1307.5L178.4 1307.8L179.4 1307.5L180.4 1308L181.4 1308.8L182.4 1308.7L183.4 1308.8L184.4 1309.4L185.4 1309.9L186.4 1310.2L187.4 1310.2L188.4 1310.6L189.4 1311L190.4 1311.6L191.4 1311.6L192.4 1311.9L193.4 1312.3L194.4 1312.2L195.4 1312.6L196.4 1313.6L197.4 1314.2L198.4 1314.2L199.4 1314.4L200.4 1314.5L201.4 1315.2L202.4 1316.1L203.5 1316.3L204.5 1316.4L205.5 1317.1L206.5 1316.9L207.5 1317.5L208.5 1318.4L209.5 1318.4L210.5 1318.7L211.5 1318.9L212.5 1319.5L213.5 1320.3L214.5 1319.8L215.5 1320.9L216.5 1321.4L217.5 1321.8L218.5 1322.1L219.5 1322.5L220.5 1322.6L221.5 1323.1L222.5 1323.3L223.5 1323.3L224.5 1324.5L225.5 1324.6L226.5 1324.7L227.5 1325.4L228.5 1325.8L229.5 1326L230.5 1326.4L231.5 1327L232.5 1327.5L233.5 1327.9L234.5 1328.2L235.5 1328.2L236.5 1328.8L237.5 1329.2L238.5 1330L239.5 1330.7L240.5 1331L241.5 1331.4L242.5 1331.9L243.5 1331.7L244.5 1332.7L245.5 1333L246.5 1332.8L247.5 1333.1L248.5 1333.5L249.5 1334.7L250.5 1334.6L251.5 1334.8L252.5 1335.8L253.5 1335.9L254.5 1336L255.5 1336.5L256.5 1337.2L257.5 1337.2L258.5 1337.7L259.5 1338.5L260.5 1338.8L261.5 1339.2L262.5 1340L263.6 1340.1L264.6 1341L265.6 1341.6L266.6 1341.9L267.6 1342.4L268.6 1343.7L269.7 1343.9L270.7 1344.1L271.7 1345L272.7 1345.8L273.7 1345.5L274.7 1346L275.8 1346.6L276.8 1347.7L277.8 1347.6L278.8 1348.6L279.8 1349L280.8 1349.3L281.9 1349.4L282.9 1350.6L283.9 1350.8L284.9 1350.9L286 1351.4L287 1352.5L288.1 1352.8L289.1 1353.6L290.2 1353.8L291.2 1354.6L292.3 1354.5L293.4 1355.1L294.4 1356.2L295.5 1356.4L296.5 1356.2L297.6 1357.2L298.7 1357.2L299.7 1358.3L300.8 1358.6L301.8 1358.7L302.9 1358.8L303.9 1358.9L305 1359.6M325 1360.1L326 1360L327 1358.8L328 1358.6L329 1359.3L330.1 1359L331.1 1358.6L332.1 1357.9L333.1 1358L334.1 1357.8L335.1 1357.4L336.1 1356.6L337.1 1356.6L338.1 1356.3L339.2 1356.3L340.2 1356.3L341.2 1355.9L342.2 1355.1L343.2 1354.6L344.2 1354L345.2 1353.3L346.3 1352.8L347.3 1352.9L348.3 1352.2L349.3 1351.8L350.3 1351.9L351.4 1351L352.4 1350.5L353.4 1349.6L354.4 1348.8L355.4 1348.6L356.5 1347.8L357.5 1347.7L358.5 1347.7L359.5 1346.5L360.6 1345.1L361.6 1345.1L362.7 1344.1L363.7 1343.1L364.8 1342.4L365.8 1341.3L366.9 1340.4L367.9 1338.9L369 1338.6L370 1337.6L371 1335.4L372 1334.8L373 1333.4L374 1331.8L375.1 1330.4L376.1 1329L377.1 1328.2L378.1 1326.5L379.1 1325.7L380.1 1324.1L381.1 1323.8L382.1 1323L383.2 1321.7L384.2 1321.1L385.2 1320.9L386.2 1320L387.2 1319.2L388.3 1318.4L389.3 1318.1L390.3 1318.2L391.3 1317.4L392.4 1318.3L393.4 1317.5L394.5 1318.2L395.5 1317.6L396.5 1318.4L397.6 1318.2L398.6 1318.1L399.7 1318.2L400.7 1318.5L401.8 1318.5L402.8 1318.2L403.8 1318.1L404.9 1318.5L405.9 1318.9L407 1318.4L408 1317.5L409.1 1317.9L410.1 1317.3L411.2 1316.8L412.2 1315.2L413.3 1315L414.4 1313.4L415.4 1313.2L416.5 1311.9L417.5 1311L418.6 1310.9L419.6 1309.3L420.7 1309.1L421.7 1309L422.7 1307.8L423.8 1307.3L424.8 1307.7L425.8 1306.7L426.8 1306.6L427.8 1305.3L428.9 1305.3L429.9 1304.7L430.9 1305L431.9 1303.9L432.9 1304.7L434 1303.3L435 1304L436 1302.9L437 1303.1L438 1303.7L439 1303L440.1 1303.1L441.1 1303.9L442.1 1303.7L443.1 1303.4L444.1 1304.8L445.1 1303.9L446.1 1303.9L447.1 1304.4L448.2 1304.8L449.2 1305L450.2 1304.2L451.2 1304.3L452.2 1303.7L453.2 1303.9L454.2 1303.8L455.3 1303.4L456.3 1303L457.3 1302.3L458.3 1301.9L459.3 1301.1L460.3 1300.3L461.3 1299.4L462.3 1299.4L463.4 1298.5L464.4 1297.8L465.4 1297.9L466.4 1298.1L467.4 1297.1L468.5 1297.5L469.5 1297.2L470.6 1297.3L471.6 1296.9L472.7 1297.9L473.7 1297.1L474.8 1297.6L475.8 1297.5L476.9 1297.1L477.9 1297.8L479 1297.4L480 1297.3L481.1 1297.3L482.1 1297.4L483.2 1297.3L484.2 1297.9L485.2 1297.5L486.3 1297.8L487.4 1297.3L488.4 1297L489.4 1295.6L490.5 1295.5L491.6 1294.8L492.6 1294.7L493.6 1294.4L494.7 1294.2L495.8 1293.9L496.8 1293.1L497.8 1293.2L498.8 1293.3L499.8 1292.7L500.9 1292.8L501.9 1293.3L502.9 1293L503.9 1293.9L504.9 1293.4L505.9 1293.4L506.9 1293.6L507.9 1293.7L509 1293.7L510 1294.1L511 1294L512 1293.7L513 1293.9L514 1293.3L515.1 1293.9L516.1 1293.8L517.1 1293.3L518.1 1292.7L519.1 1292.5L520.2 1292.3L521.2 1291.4L522.2 1291.5L523.2 1291.4L524.2 1290.7L525.3 1290.3L526.3 1290.9L527.3 1290.1L528.3 1290L529.3 1290.3L530.4 1289.7L531.4 1289.2L532.4 1289.9L533.4 1289L534.4 1288.5L535.4 1289.3L536.5 1288.6L537.5 1288.8L538.5 1289.4L539.5 1289.3L540.5 1288.5L541.5 1289.1L542.5 1289.1L543.6 1289.2L544.6 1288.9L545.6 1289.4L546.6 1288.8L547.6 1289.1L548.6 1289.2L549.7 1289.9L550.7 1288.9L551.7 1289.7L552.7 1288.9L553.7 1289.3L554.8 1289.1L555.8 1289.1L556.8 1289.4L557.8 1288.9L558.9 1288.5L559.9 1288.4L560.9 1288.3L562 1289.2L563 1288.8L564 1289.1L565 1288.7L566.1 1287.8L567.1 1288.5L568.1 1288.5L569.2 1288.4L570.2 1288L571.2 1287.8L572.2 1287.8L573.3 1288.1L574.3 1287.4L575.3 1287.6L576.3 1287.4L577.4 1287.9L578.4 1287.7L579.4 1287.7L580.5 1287.5L581.5 1286.8L582.5 1286.7L583.5 1286.9L584.6 1286.6L585.6 1286.7L586.6 1287L587.6 1287.2L588.7 1286.8L589.7 1287L590.7 1286.1L591.7 1286.4L592.7 1287.1L593.7 1286.1L594.8 1286.4L595.8 1285.9L596.8 1285.9L597.8 1286.8L598.8 1286.9L599.9 1286.5L600.9 1285.8L601.9 1286L602.9 1285.9L603.9 1286.4L604.9 1286.4L606 1286L607 1286.1L608 1285.6L609 1286.1L610 1286.5L611.1 1286.3L612.1 1285.5L613.1 1286L614.1 1286.2L615.1 1285.6L616.1 1286.3L617.2 1285.8L618.2 1286.1L619.2 1285.7L620.2 1286.4L621.2 1286.1L622.3 1285.9L623.3 1285.3L624.3 1285.7L625.3 1285.2L626.3 1285.8L627.3 1286.2L628.4 1285.3L629.4 1285.7L630.4 1285.7L631.4 1285.6L632.4 1285.9L633.4 1286.2L634.4 1285.9L635.4 1285.7L636.4 1286.3L637.4 1285.5L638.4 1286L639.4 1286L640.4 1286.1L641.4 1286.2L642.4 1285.5L643.4 1286L644.4 1285.8L645.4 1286.1L646.4 1286.5L647.4 1286.1L648.4 1285.4L649.4 1286L650.4 1286.3L651.4 1286.6L652.4 1286.3L653.4 1286.5L654.4 1285.6L655.4 1286.7L656.4 1286.5L657.4 1286.4L658.4 1286.7L659.4 1286.7L660.4 1285.8L661.4 1286.7L662.4 1286.6L663.4 1285.9L664.4 1286.6L665.4 1286.4L666.4 1285.9L667.4 1286.6L668.4 1285.8L669.4 1286.4L670.4 1286.2L671.4 1285.9L672.4 1286.3L673.4 1286.2L674.4 1285.8L675.4 1286.7L676.4 1285.6L677.4 1285.5L678.4 1286.1L679.4 1286.5L680.4 1286.2L681.4 1286.3L682.4 1286L683.4 1286.2L684.4 1285.7L685.5 1285.6L686.5 1285.9L687.5 1285.3L688.5 1285.3L689.5 1286.1L690.5 1285.4L691.5 1286.1L692.5 1286.1L693.5 1285.6L694.5 1285.9L695.5 1286.1L696.5 1286.1L697.5 1285.3L698.5 1285.3L699.5 1285.5L700.5 1285.6L701.5 1285.4L702.5 1285.1L703.5 1285.7L704.5 1286.2L705.5 1285.5L706.5 1285.7L707.5 1285.6L708.5 1285.7L709.5 1286.2L710.5 1285.6L711.5 1286L712.5 1285.9L713.5 1286L714.5 1286.4L715.5 1285.5L716.5 1286.4L717.5 1285.9L718.5 1286.3L719.5 1286.6L720.5 1286.4L721.5 1286.2L722.5 1286.8L723.5 1285.9L724.5 1286.7L725.5 1286.4L726.5 1286.7L727.5 1287.1L728.5 1287.1L729.5 1287L730.5 1286.7L731.5 1286.6L732.5 1287L733.5 1286.8L734.5 1286.9L735.5 1287.8L736.5 1286.8L737.5 1287.7L738.5 1287.3L739.5 1287.3L740.5 1287.3L741.5 1287.1L742.5 1287.6L743.5 1287.3L744.5 1287.7L745.5 1287.6L746.5 1288.4L747.5 1288.5L748.5 1288L749.5 1288.3L750.5 1288.7L751.5 1288L752.5 1287.8L753.5 1288.1L754.5 1288.1L755.5 1288.7L756.5 1288.4L757.5 1288.5L758.5 1289.1L759.6 1288.5L760.6 1289.2L761.6 1289.1L762.6 1288.9L763.6 1289.4L764.6 1288.9L765.6 1289.7L766.6 1289.8L767.6 1289.3L768.6 1289.6L769.6 1290L770.6 1289.9L771.6 1289.9L772.6 1290.2L773.6 1290.3L774.6 1290.2L775.6 1290.5L776.6 1289.8L777.6 1290.2L778.6 1290.4L779.6 1290.1L780.6 1290.2L781.6 1290L782.6 1291.1L783.6 1290.4L784.6 1290.6L785.6 1291.2L786.6 1290.5L787.6 1291.5L788.6 1290.6L789.6 1290.5L790.6 1291L791.6 1291.1L792.6 1291.9L793.6 1291.9L794.6 1291.9L795.6 1291.6L796.6 1291.8L797.6 1291.5L798.6 1292.3L799.6 1291.9L800.6 1291.8L801.6 1292.3L802.6 1291.8L803.6 1292.1L804.6 1293L805.6 1292L806.6 1292.2L807.6 1292.4L808.6 1292.5L809.6 1292.8L810.6 1292.7L811.6 1292.9L812.6 1292.8L813.6 1292.9L814.6 1293.4L815.6 1293.2L816.6 1293.4L817.6 1293.9L818.6 1293.2L819.6 1293.4L820.6 1294.4L821.6 1294L822.6 1294.5L823.7 1293.9L824.7 1294.5L825.7 1295L826.7 1294.5L827.7 1295.1L828.7 1295.1L829.7 1294.9L830.7 1295.8L831.7 1295.1L832.7 1295.4L833.7 1295.6L834.7 1295.4L835.7 1296.1L836.7 1295.9L837.8 1296L838.8 1296L839.8 1296.6L840.8 1296.7L841.8 1296.6L842.8 1296.2L843.8 1296.2L844.8 1296.4" stroke="#9400d3" stroke-width="4.3" stroke-linejoin="round" fill="none"/>
<path d="M122.5 1270.3L123.6 1271.1L124.6 1270.6L125.7 1271.2L126.7 1271.1L127.8 1269.6L128.8 1269.4L129.9 1271.5L131 1270L132 1270L133.1 1272L134.1 1270.7L135.2 1271.9L136.2 1271.3L137.2 1272.1L138.3 1271.4L139.3 1273.2L140.3 1274.4L141.3 1274.1L142.3 1275.3L143.4 1275.7L144.4 1274.6L145.4 1276.8L146.4 1277L147.4 1276.8L148.4 1276.5L149.4 1278.7L150.4 1277.3L151.5 1277.3L152.6 1276.7L153.7 1275.1L154.7 1274.3L155.8 1271.6L156.9 1271.5L158 1269.7L159.1 1270.5L160.1 1270L161.2 1267.6L162.2 1267.4L163.3 1267.3L164.3 1269L165.4 1267.4L166.5 1267.7L167.5 1266.8L168.6 1267.2L169.6 1266.9L170.7 1266.8L171.8 1267.7L172.9 1268.3L174 1269.9L175 1270.2L176.1 1271.5L177.2 1271.8L178.3 1272.3L179.3 1271.3L180.4 1269.8L181.4 1271.4L182.5 1271.4L183.5 1270.8L184.6 1269.6L185.6 1269.5L186.7 1267.8L187.7 1268.9L188.8 1267.8L189.8 1266.6L190.9 1265.6L191.9 1267.3L193 1267.3L194 1264.7L195.1 1266.3L196.1 1265.2L197.1 1264.4L198.2 1264.8L199.2 1266.2L200.3 1266.6L201.3 1264.6L202.4 1266.3L203.4 1265.1L204.5 1267.1L205.5 1266.3L206.6 1268L207.6 1268.5L208.7 1267.5L209.7 1269L210.8 1267.4L211.8 1266.9L212.9 1268.3L213.9 1266.8L214.9 1267L215.9 1267.2L216.9 1267.2L217.9 1265.4L218.9 1264.5L220 1266L221 1264L222 1265.1L223 1264.6L224 1263.1L225 1263.3L226.1 1263.5L227.1 1263.9L228.1 1263.8L229.2 1263.9L230.2 1264.2L231.3 1265.2L232.3 1264.2L233.3 1264.2L234.4 1265.2L235.4 1264.2L236.4 1264.6L237.5 1266.5L238.5 1265.6L239.5 1265.8L240.6 1264.6L241.6 1265.8L242.7 1266.4L243.7 1265.1L244.7 1266.7L245.8 1266.8L246.8 1265.4L247.8 1266.8L248.8 1266.3L249.8 1266.7L250.9 1265.6L251.9 1266.3L252.9 1266.1L253.9 1263.9L254.9 1263.7L255.9 1265L256.9 1265.5L257.9 1263.4L259 1263.7L260 1263.8L261 1263L262 1263L263 1262.9L264 1263.1L265.1 1263.8L266.1 1263.2L267.1 1263.5L268.1 1264.8L269.1 1263L270.2 1264.7L271.2 1265.3L272.2 1264.4L273.2 1264.3L274.2 1266L275.3 1264.7L276.3 1264.6L277.3 1265.2L278.3 1265.9L279.3 1264.2L280.3 1264.6L281.4 1264.5L282.4 1265.5L283.4 1264.3L284.4 1265.1L285.4 1263.1L286.4 1263.2L287.4 1263.8L288.4 1264.2L289.5 1262.9L290.5 1262.1L291.5 1261.8L292.5 1262.8L293.6 1261.9L294.6 1263.6L295.7 1263.8L296.7 1262.3L297.8 1262.8L298.9 1264.5L299.9 1264.3L301 1265L302 1264L303.1 1263.6L304.1 1264.1L305.2 1265.5L306.2 1264.1L307.3 1264.2L308.3 1264.3L309.4 1264.2L310.4 1264L311.4 1265.2L312.5 1263.1L313.5 1262.5L314.6 1264.8L315.6 1264.4L316.7 1264.5L317.7 1262.9L318.7 1264.2L319.8 1264L320.8 1262.1L321.9 1263.4L322.9 1263.6L323.9 1263.1L325 1262.8L326 1262.3L327.1 1262.6L328.1 1262.4L329.2 1262.1L330.2 1263.7L331.3 1263L332.3 1264.6L333.4 1262.8L334.4 1265.2L335.5 1264.8L336.5 1265.5L337.6 1265.6L338.6 1265.7L339.7 1264.9L340.7 1263.4L341.7 1265.3L342.7 1263.7L343.7 1263.8L344.7 1264.4L345.8 1263.8L346.8 1263.2L347.8 1264.3L348.8 1263.3L349.8 1262.5L350.8 1262.3L351.8 1263.9L352.9 1263L353.9 1263.9L355 1263L356 1262.8L357.1 1263.8L358.1 1264.8L359.2 1263.4L360.2 1265.2L361.3 1265.8L362.3 1265.7L363.4 1266L364.4 1264.1L365.5 1265.9L366.5 1266.7L367.6 1264.7L368.6 1265.4L369.6 1265.5L370.7 1266.2L371.7 1266L372.8 1266.1L373.8 1266.9L374.8 1264.8L375.9 1264.9L376.9 1265.1L377.9 1265.1L379 1264.9L380 1267.2L381.1 1266.9L382.1 1264.8L383.1 1265.9L384.2 1265.5L385.2 1265.5L386.2 1265.7L387.2 1266.6L388.2 1266.6L389.3 1266.2L390.3 1266L391.3 1266.6L392.3 1266.3L393.3 1267.6L394.3 1268.2L395.3 1267.5L396.3 1266.9L397.4 1267.2L398.4 1267.8L399.4 1268.4L400.4 1268.7L401.5 1267.2L402.6 1267.4L403.7 1265.8L404.7 1264.2L405.8 1263L406.9 1262.6L408 1262.7L409.1 1262L410.1 1262.8L411.2 1262.4L412.2 1262.1L413.3 1263.2L414.4 1264.1L415.4 1262.9L416.5 1264.3L417.5 1264.8L418.6 1266.5L419.6 1267.1L420.7 1266.2L421.8 1268.1L422.8 1268.4L423.9 1267.7L424.9 1268.9L426 1268.8L427 1271.3L428.1 1271.6L429.2 1272.9L430.2 1273.2L431.3 1273.4L432.3 1273.9L433.4 1273.8L434.5 1272.7L435.6 1273.9L436.7 1272.1L437.7 1272L438.8 1273L439.9 1270.5L441 1269.9L442.1 1269.2L443.2 1270.2L444.3 1267.3L445.3 1265.7L446.4 1266.9L447.5 1264.2L448.6 1265.6L449.6 1265L450.6 1265.4L451.7 1265.9L452.7 1265.1L453.7 1265.9L454.7 1264.3L455.7 1266.6L456.8 1266.3L457.8 1267.3L458.8 1266.2L459.8 1268.7L460.8 1270.1L461.9 1269L462.9 1271.2L463.9 1273.8L464.9 1278L465.9 1280.8L467 1285.2L468 1289.3L469.2 1295.4L470.3 1300.4L471.5 1301.2L472.7 1298.5L473.8 1293.2L475 1287.6L476.4 1280.1L477.8 1272.5L479.1 1270.6L480.3 1269.7L481.6 1267L482.7 1267.4L483.8 1265.6L484.9 1266.8L485.9 1266.9L487 1266.9L488.1 1267.1L489.2 1268L490.3 1270.1L491.3 1273L492.4 1273.7L493.5 1276.5L494.5 1281.3L495.6 1284.8L496.7 1288.7L497.8 1293.9L498.9 1299.9L500 1303.2L501.1 1309.3L502.1 1314.1L503.2 1316.9L504.3 1312.9L505.4 1306.1L506.5 1300.5L507.5 1294.8L508.5 1286.6L509.5 1281.7L510.6 1278.2L511.6 1276.5L512.7 1273.1L513.8 1270L514.8 1268.3L515.9 1267.3L517 1269L518 1270.2L519 1271.8L520.1 1275L521.2 1277.8L522.2 1281.9L523.6 1291L525 1304.3L526.1 1313.3L527.3 1319.5L528.5 1313.9L529.8 1305.9L531.1 1299L532.4 1291.4L533.5 1288.5L534.5 1286L535.5 1283.1L536.6 1279.1L537.7 1277.8L538.7 1277.3L539.8 1276.1L540.9 1276.2L542 1277.5L543.2 1280.3L544.3 1282L545.4 1284.5L546.5 1285.9L547.6 1285.6L548.6 1287.4L549.6 1289.4L550.7 1291L551.7 1293.7L552.7 1294.8L553.7 1295L554.7 1293.1L555.7 1294.3L556.7 1292.4L557.8 1292L558.8 1292.2L559.8 1290L560.8 1289.5L561.8 1291.1L562.8 1289.6L563.8 1289.8L564.8 1290.5L565.9 1291.1L566.9 1289.7L567.9 1290.9L568.9 1291.7L569.9 1292.3L571 1292.1L572 1293.6L573 1295.1L574 1294.1L575.1 1295L576.1 1294.5L577.2 1295.6L578.2 1297.3L579.3 1296.5L580.4 1299.2L581.4 1299.8L582.5 1298.2L583.5 1300.9L584.6 1299.7L585.6 1300.9L586.6 1300.9L587.6 1299.4L588.7 1299.9L589.7 1299.3L590.7 1299.1L591.7 1297.1L592.7 1297.8L593.8 1297.9L594.8 1296.9L595.8 1296.5L596.8 1295.6L597.8 1297L598.8 1297.2L599.8 1298.9L600.8 1299.5L601.9 1300L602.9 1299.8L603.9 1301.8L604.9 1302.5L605.9 1301.9L607 1304.1L608 1303.9L609.1 1302.9L610.1 1305.4L611.2 1303.7L612.2 1304.6L613.3 1305.9L614.4 1305.9L615.4 1306L616.5 1306.5L617.5 1306.2L618.6 1306L619.6 1305.8L620.7 1305.5L621.7 1307.1L622.7 1307.1L623.7 1306.5L624.8 1306.9L625.8 1305.7L626.8 1305.4L627.9 1305.6L628.9 1306.8L629.9 1304.7L630.9 1306L632 1305.5L633 1307.2L634.1 1307L635.2 1308.3L636.3 1310.1L637.5 1312.1L638.6 1314.3L639.7 1314.7L640.8 1317.1L641.9 1315.7L643 1315.8L644 1314.3L645 1312.7L646.1 1312.8L647.2 1311.4L648.2 1309.5L649.3 1309.7L650.4 1311L651.5 1312.8L652.5 1314.1L653.6 1315.2L654.7 1315.9L655.8 1315.8L656.9 1317.4L658 1318L659.1 1319.9L660.1 1321.1L661.2 1321.1L662.3 1321.9L663.4 1323.7L664.5 1321.9L665.5 1323.8L666.6 1323.9L667.6 1323.8L668.7 1322L669.8 1322.1L670.8 1321.8L671.9 1321.6L672.9 1322.2L674 1321.2L675 1320L676.1 1321.4L677.2 1320.5L678.2 1320.9L679.3 1321.5L680.3 1319.9L681.4 1322.1L682.5 1322.2L683.5 1322L684.6 1322.4L685.6 1322.5L686.7 1322L687.7 1323L688.8 1321.8L689.9 1323L691 1323.3L692.1 1322.6L693.2 1322.6L694.4 1323.3L695.5 1322.7L696.6 1320.2L697.7 1321.3L699 1318.4L700.2 1313.7L701.5 1311.2L702.8 1304.4L704 1300.4L705.2 1309.4L706.5 1317.8L707.5 1315.5L708.5 1314.6L709.6 1310.9L710.6 1306L711.6 1304.9L712.7 1302.4L713.8 1301.2L714.9 1298.7L715.9 1296.7L717 1293.9L718.1 1293.4L719.2 1292.4L720.3 1291.1L721.4 1289L722.5 1288.9L723.5 1287.6L724.6 1286.2L725.7 1286L726.8 1286.4L727.8 1287.3L728.8 1288.2L729.9 1290.4L730.9 1292.5L731.9 1293.6L732.9 1294.9L733.9 1296.9L735 1297.2L736 1298.4L737 1299.6L738 1298.1L739 1295.6L740.1 1295.1L741.1 1292.3L742.1 1289.8L743.2 1289.1L744.3 1289.1L745.4 1289L746.4 1287.9L747.5 1287.3L748.6 1287.9L749.7 1289.5L750.8 1288.3L751.9 1289.9L753 1290.1L754 1291.1L755.1 1291.7L756.2 1292.6L757.3 1291.7L758.3 1290.7L759.3 1289.9L760.3 1288.7L761.3 1288L762.3 1285.2L763.4 1283.4L764.4 1283L765.4 1281.5L766.4 1281.2L767.4 1278.7L768.5 1279.1L769.6 1278.7L770.7 1277.7L771.7 1280.5L772.8 1279.2L773.9 1279.9L775 1282.3L776.1 1283.8L777.2 1288.4L778.3 1291.5L779.3 1294.8L780.4 1298.1L781.5 1302.3L782.6 1302.1L783.7 1302.7L784.8 1299.8L785.9 1297.9L787 1292.7L788.1 1288.9L789.2 1285.6L790.3 1284.5L791.3 1281.4L792.3 1278.5L793.3 1276L794.3 1276.2L795.3 1276L796.4 1274.8L797.5 1273.2L798.6 1273.6L799.6 1274.2L800.7 1275L801.8 1275.4L802.9 1276.2L804 1278.9L805.1 1281.2L806.2 1281.2L807.3 1285L808.4 1285.2L809.5 1287L810.6 1287.4L811.6 1286.9L812.6 1283.5L813.6 1282.8L814.6 1281.8L815.7 1280.9L816.7 1276.7L817.7 1275.5L818.7 1275.3L819.7 1272.1L820.7 1272L821.8 1271.2L822.9 1271.9L824 1272.6L825 1271L826.1 1273.2L827.2 1274.2L828.3 1275.7L829.4 1276.8L830.5 1280.3L831.6 1281.9L832.6 1285.1L833.7 1287.4L834.8 1290.9L835.9 1291.2L836.9 1290.2L838 1287.3L839 1285.4L840 1282.3L841.2 1280.2L842.4 1276.9L843.6 1275.1L844.8 1273.6" stroke="#009e73" stroke-width="4.3" stroke-linejoin="round" fill="none"/>
<path d="M350 1115.8H431" stroke="#000" stroke-width="4.2"/>
<path d="M350 1147.6H431" stroke="#000" stroke-width="4.2" stroke-dasharray="10.2 6.8"/>
<path d="M412 1229.9H492.3" stroke="#9400d3" stroke-width="4.3"/>
<path d="M665 1229.9H746.5" stroke="#009e73" stroke-width="4.3"/>
<rect x="124" y="1040.7" width="721" height="159.8" fill="none" stroke="#000" stroke-width="1.1"/>
<rect x="124" y="1200.5" width="721" height="160" fill="none" stroke="#000" stroke-width="1.1"/>
<g fill="#000" stroke="#000" stroke-width="0.35"><text x="124" y="1028.4" font-size="27" text-anchor="middle">t<tspan font-size="21" dy="5.6">1</tspan></text>
<text x="304.2" y="1028.4" font-size="27" text-anchor="middle">t<tspan font-size="21" dy="5.6">2</tspan></text>
<text x="484.5" y="1028.4" font-size="27" text-anchor="middle">t<tspan font-size="21" dy="5.6">3</tspan></text>
<text x="664.8" y="1028.4" font-size="27" text-anchor="middle">t<tspan font-size="21" dy="5.6">4</tspan></text>
<text x="105.7" y="1050.5" font-size="27" text-anchor="end">2</text>
<text x="105.7" y="1077" font-size="27" text-anchor="end">0</text>
<text x="105.7" y="1130.1" font-size="27" text-anchor="end">-4</text>
<text x="105.7" y="1183.2" font-size="27" text-anchor="end">-8</text>
<text x="105.7" y="1242.4" font-size="27" text-anchor="end">2</text>
<text x="105.7" y="1307.3" font-size="27" text-anchor="end">1</text>
<text x="105.7" y="1372.3" font-size="27" text-anchor="end">0</text>
<text x="124" y="1403" font-size="27" text-anchor="middle">-0.25</text>
<text x="304.2" y="1403" font-size="27" text-anchor="middle">0</text>
<text x="484.5" y="1403" font-size="27" text-anchor="middle">0.25</text>
<text x="664.8" y="1403" font-size="27" text-anchor="middle">0.5</text>
<text x="845" y="1403" font-size="27" text-anchor="middle">0.75</text>
<text x="485" y="1443" font-size="26.6" text-anchor="middle">t/T<tspan font-size="21" dy="5.6">RF</tspan></text>
<text x="331" y="1125.3" font-size="27" text-anchor="end">Pow. ele. 1</text>
<text x="331" y="1157.6" font-size="27" text-anchor="end">Pow. ele. 2</text>
<text x="134" y="1182.6" font-size="27" text-anchor="start">(b1)</text>
<text x="135" y="1239" font-size="27" text-anchor="start">(b2)</text>
<text x="391" y="1239" font-size="27" text-anchor="end">sheath 1</text>
<text x="645" y="1239" font-size="27" text-anchor="end">sheath 2</text>
<text transform="translate(21 1120) rotate(-90)" font-size="27.1" text-anchor="middle">Potential</text>
<text transform="translate(51 1120) rotate(-90)" font-size="27.1" text-anchor="middle">[*100 V]</text>
<text transform="translate(21 1280) rotate(-90)" font-size="27.1" text-anchor="middle">Sheath</text>
<text transform="translate(51 1280) rotate(-90)" font-size="27.1" text-anchor="middle">width</text>
<text transform="translate(83 1280) rotate(-90)" font-size="27.1" text-anchor="middle">[cm]</text></g>
</svg>
</body></html>
